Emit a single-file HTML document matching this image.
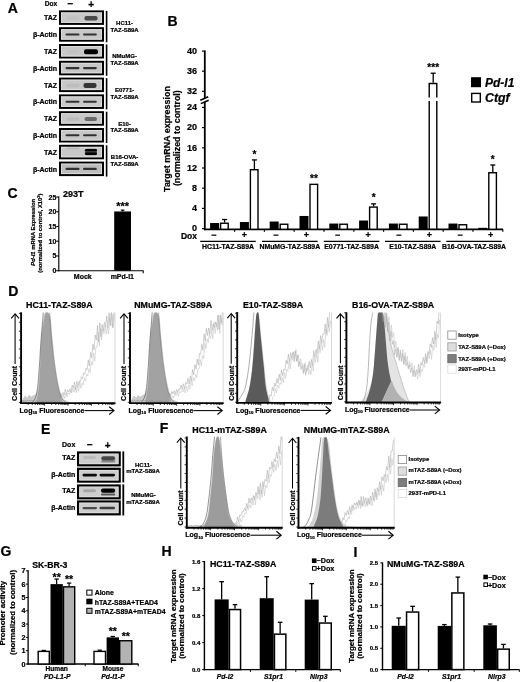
<!DOCTYPE html>
<html><head><meta charset="utf-8"><style>
html,body{margin:0;padding:0;background:#fff;}
svg{display:block;filter:blur(0.3px);}
text{font-family:"Liberation Sans", Arial, sans-serif;stroke-width:0.22px;stroke:#000;}
</style></head><body>
<svg width="520" height="682" viewBox="0 0 520 682">
<defs>
<filter id="blur1" x="-20%" y="-50%" width="140%" height="200%"><feGaussianBlur stdDeviation="0.7"/></filter>
</defs>
<rect width="520" height="682" fill="#fff"/>
<text x="7.80" y="12.90" font-size="14" font-weight="bold" text-anchor="start" fill="#000" stroke="#000" stroke-width="0.22">A</text>
<text x="57.30" y="6.10" font-size="6.6" font-weight="bold" text-anchor="end" fill="#000" stroke="#000" stroke-width="0.3">Dox</text>
<text x="70.30" y="7.30" font-size="10" font-weight="bold" text-anchor="middle" fill="#000" stroke="#000" stroke-width="0.22">−</text>
<text x="91.20" y="7.50" font-size="10" font-weight="bold" text-anchor="middle" fill="#000" stroke="#000" stroke-width="0.22">+</text>
<rect x="60.00" y="11.40" width="43.00" height="12.50" fill="#c8c8c8" stroke="#000" stroke-width="2"/>
<rect x="61.50" y="12.90" width="40.00" height="9.50" fill="none" stroke="#dedede" stroke-width="0.9"/>
<rect x="66.50" y="16.45" width="13.00" height="3.50" rx="1.75" fill="#333" opacity="0.04" filter="url(#blur1)"/>
<rect x="84.40" y="15.90" width="13.20" height="4.60" rx="2.00" fill="#2a2a2a" opacity="0.80" filter="url(#blur1)"/>
<rect x="60.00" y="28.20" width="43.00" height="12.50" fill="#c8c8c8" stroke="#000" stroke-width="2"/>
<rect x="61.50" y="29.70" width="40.00" height="9.50" fill="none" stroke="#dedede" stroke-width="0.9"/>
<rect x="65.50" y="33.45" width="14.00" height="2.10" rx="1.05" fill="#222" opacity="0.90" filter="url(#blur1)"/>
<rect x="83.00" y="33.45" width="13.80" height="2.10" rx="1.05" fill="#222" opacity="0.90" filter="url(#blur1)"/>
<text x="57.00" y="20.40" font-size="7" font-weight="bold" text-anchor="end" fill="#000" stroke="#000" stroke-width="0.3">TAZ</text>
<text x="57.00" y="37.20" font-size="7" font-weight="bold" text-anchor="end" fill="#000" stroke="#000" stroke-width="0.3">β-Actin</text>
<rect x="105.80" y="10.90" width="1.60" height="31.30" fill="#000"/>
<text x="124.60" y="24.70" font-size="6.0" font-weight="bold" text-anchor="middle" fill="#000" stroke="#000" stroke-width="0.3">HC11-</text>
<text x="124.60" y="31.60" font-size="6.0" font-weight="bold" text-anchor="middle" fill="#000" stroke="#000" stroke-width="0.3">TAZ-S89A</text>
<rect x="60.00" y="45.00" width="43.00" height="12.50" fill="#c8c8c8" stroke="#000" stroke-width="2"/>
<rect x="61.50" y="46.50" width="40.00" height="9.50" fill="none" stroke="#dedede" stroke-width="0.9"/>
<rect x="66.50" y="50.05" width="13.00" height="3.50" rx="1.75" fill="#333" opacity="0.03" filter="url(#blur1)"/>
<rect x="84.00" y="49.30" width="14.00" height="5.00" rx="2.00" fill="#000" opacity="1.00" filter="url(#blur1)"/>
<rect x="60.00" y="61.80" width="43.00" height="12.50" fill="#c8c8c8" stroke="#000" stroke-width="2"/>
<rect x="61.50" y="63.30" width="40.00" height="9.50" fill="none" stroke="#dedede" stroke-width="0.9"/>
<rect x="65.50" y="67.05" width="14.00" height="2.10" rx="1.05" fill="#222" opacity="0.90" filter="url(#blur1)"/>
<rect x="83.00" y="67.05" width="13.80" height="2.10" rx="1.05" fill="#222" opacity="0.90" filter="url(#blur1)"/>
<text x="57.00" y="54.00" font-size="7" font-weight="bold" text-anchor="end" fill="#000" stroke="#000" stroke-width="0.3">TAZ</text>
<text x="57.00" y="70.80" font-size="7" font-weight="bold" text-anchor="end" fill="#000" stroke="#000" stroke-width="0.3">β-Actin</text>
<rect x="105.80" y="44.50" width="1.60" height="31.30" fill="#000"/>
<text x="124.60" y="58.30" font-size="6.0" font-weight="bold" text-anchor="middle" fill="#000" stroke="#000" stroke-width="0.3">NMuMG-</text>
<text x="124.60" y="65.20" font-size="6.0" font-weight="bold" text-anchor="middle" fill="#000" stroke="#000" stroke-width="0.3">TAZ-S89A</text>
<rect x="60.00" y="78.60" width="43.00" height="12.50" fill="#c8c8c8" stroke="#000" stroke-width="2"/>
<rect x="61.50" y="80.10" width="40.00" height="9.50" fill="none" stroke="#dedede" stroke-width="0.9"/>
<rect x="66.50" y="83.65" width="13.00" height="3.50" rx="1.75" fill="#333" opacity="0.07" filter="url(#blur1)"/>
<rect x="83.50" y="83.10" width="13.00" height="4.80" rx="2.00" fill="#1a1a1a" opacity="0.85" filter="url(#blur1)"/>
<rect x="60.00" y="95.40" width="43.00" height="12.50" fill="#c8c8c8" stroke="#000" stroke-width="2"/>
<rect x="61.50" y="96.90" width="40.00" height="9.50" fill="none" stroke="#dedede" stroke-width="0.9"/>
<rect x="65.50" y="100.65" width="14.00" height="2.10" rx="1.05" fill="#222" opacity="0.90" filter="url(#blur1)"/>
<rect x="83.00" y="100.65" width="13.80" height="2.10" rx="1.05" fill="#222" opacity="0.90" filter="url(#blur1)"/>
<text x="57.00" y="87.60" font-size="7" font-weight="bold" text-anchor="end" fill="#000" stroke="#000" stroke-width="0.3">TAZ</text>
<text x="57.00" y="104.40" font-size="7" font-weight="bold" text-anchor="end" fill="#000" stroke="#000" stroke-width="0.3">β-Actin</text>
<rect x="105.80" y="78.10" width="1.60" height="31.30" fill="#000"/>
<text x="124.60" y="91.90" font-size="6.0" font-weight="bold" text-anchor="middle" fill="#000" stroke="#000" stroke-width="0.3">E0771-</text>
<text x="124.60" y="98.80" font-size="6.0" font-weight="bold" text-anchor="middle" fill="#000" stroke="#000" stroke-width="0.3">TAZ-S89A</text>
<rect x="60.00" y="112.20" width="43.00" height="12.50" fill="#c8c8c8" stroke="#000" stroke-width="2"/>
<rect x="61.50" y="113.70" width="40.00" height="9.50" fill="none" stroke="#dedede" stroke-width="0.9"/>
<rect x="66.50" y="117.25" width="13.00" height="3.50" rx="1.75" fill="#333" opacity="0.07" filter="url(#blur1)"/>
<rect x="84.50" y="117.00" width="12.50" height="4.00" rx="2.00" fill="#333" opacity="0.62" filter="url(#blur1)"/>
<rect x="60.00" y="129.00" width="43.00" height="12.50" fill="#c8c8c8" stroke="#000" stroke-width="2"/>
<rect x="61.50" y="130.50" width="40.00" height="9.50" fill="none" stroke="#dedede" stroke-width="0.9"/>
<rect x="65.50" y="134.25" width="14.00" height="2.10" rx="1.05" fill="#222" opacity="0.90" filter="url(#blur1)"/>
<rect x="83.00" y="134.25" width="13.80" height="2.10" rx="1.05" fill="#222" opacity="0.90" filter="url(#blur1)"/>
<text x="57.00" y="121.20" font-size="7" font-weight="bold" text-anchor="end" fill="#000" stroke="#000" stroke-width="0.3">TAZ</text>
<text x="57.00" y="138.00" font-size="7" font-weight="bold" text-anchor="end" fill="#000" stroke="#000" stroke-width="0.3">β-Actin</text>
<rect x="105.80" y="111.70" width="1.60" height="31.30" fill="#000"/>
<text x="124.60" y="125.50" font-size="6.0" font-weight="bold" text-anchor="middle" fill="#000" stroke="#000" stroke-width="0.3">E10-</text>
<text x="124.60" y="132.40" font-size="6.0" font-weight="bold" text-anchor="middle" fill="#000" stroke="#000" stroke-width="0.3">TAZ-S89A</text>
<rect x="60.00" y="145.80" width="43.00" height="12.50" fill="#c8c8c8" stroke="#000" stroke-width="2"/>
<rect x="61.50" y="147.30" width="40.00" height="9.50" fill="none" stroke="#dedede" stroke-width="0.9"/>
<rect x="66.50" y="146.30" width="13.00" height="3.00" rx="1.50" fill="#333" opacity="0.10" filter="url(#blur1)"/>
<rect x="84.90" y="148.80" width="12.10" height="6.50" rx="2.00" fill="#333" opacity="0.60" filter="url(#blur1)"/>
<rect x="84.90" y="148.90" width="12.10" height="2.60" rx="1.30" fill="#000" opacity="0.95" filter="url(#blur1)"/>
<rect x="84.90" y="152.30" width="12.10" height="2.80" rx="1.40" fill="#000" opacity="0.95" filter="url(#blur1)"/>
<rect x="60.00" y="162.60" width="43.00" height="12.50" fill="#bdbdbd" stroke="#000" stroke-width="2"/>
<rect x="61.50" y="164.10" width="40.00" height="9.50" fill="none" stroke="#dedede" stroke-width="0.9"/>
<rect x="65.50" y="167.85" width="14.00" height="2.10" rx="1.05" fill="#222" opacity="0.90" filter="url(#blur1)"/>
<rect x="83.00" y="167.85" width="13.80" height="2.10" rx="1.05" fill="#222" opacity="0.90" filter="url(#blur1)"/>
<text x="57.00" y="154.80" font-size="7" font-weight="bold" text-anchor="end" fill="#000" stroke="#000" stroke-width="0.3">TAZ</text>
<text x="57.00" y="171.60" font-size="7" font-weight="bold" text-anchor="end" fill="#000" stroke="#000" stroke-width="0.3">β-Actin</text>
<rect x="105.80" y="145.30" width="1.60" height="31.30" fill="#000"/>
<text x="124.60" y="159.10" font-size="6.0" font-weight="bold" text-anchor="middle" fill="#000" stroke="#000" stroke-width="0.3">B16-OVA-</text>
<text x="124.60" y="166.00" font-size="6.0" font-weight="bold" text-anchor="middle" fill="#000" stroke="#000" stroke-width="0.3">TAZ-S89A</text>
<text x="167.50" y="26.20" font-size="14" font-weight="bold" text-anchor="start" fill="#000" stroke="#000" stroke-width="0.22">B</text>
<line x1="204.80" y1="50.50" x2="204.80" y2="98.20" stroke="#000" stroke-width="1.8"/>
<line x1="204.80" y1="102.00" x2="204.80" y2="230.20" stroke="#000" stroke-width="1.8"/>
<line x1="200.30" y1="100.20" x2="208.20" y2="96.80" stroke="#000" stroke-width="1.5"/>
<line x1="200.80" y1="103.60" x2="208.70" y2="100.20" stroke="#000" stroke-width="1.5"/>
<line x1="202.00" y1="51.10" x2="204.80" y2="51.10" stroke="#000" stroke-width="1.2"/>
<text x="196.90" y="53.80" font-size="9" font-weight="bold" text-anchor="end" fill="#000" stroke="#000" stroke-width="0.22">40</text>
<line x1="202.00" y1="71.20" x2="204.80" y2="71.20" stroke="#000" stroke-width="1.2"/>
<text x="196.90" y="73.90" font-size="9" font-weight="bold" text-anchor="end" fill="#000" stroke="#000" stroke-width="0.22">36</text>
<line x1="202.00" y1="91.30" x2="204.80" y2="91.30" stroke="#000" stroke-width="1.2"/>
<text x="196.90" y="94.00" font-size="9" font-weight="bold" text-anchor="end" fill="#000" stroke="#000" stroke-width="0.22">32</text>
<line x1="202.00" y1="107.40" x2="204.80" y2="107.40" stroke="#000" stroke-width="1.2"/>
<text x="196.90" y="110.10" font-size="9" font-weight="bold" text-anchor="end" fill="#000" stroke="#000" stroke-width="0.22">24</text>
<line x1="202.00" y1="127.60" x2="204.80" y2="127.60" stroke="#000" stroke-width="1.2"/>
<text x="196.90" y="130.30" font-size="9" font-weight="bold" text-anchor="end" fill="#000" stroke="#000" stroke-width="0.22">20</text>
<line x1="202.00" y1="147.80" x2="204.80" y2="147.80" stroke="#000" stroke-width="1.2"/>
<text x="196.90" y="150.50" font-size="9" font-weight="bold" text-anchor="end" fill="#000" stroke="#000" stroke-width="0.22">16</text>
<line x1="202.00" y1="168.00" x2="204.80" y2="168.00" stroke="#000" stroke-width="1.2"/>
<text x="196.90" y="170.70" font-size="9" font-weight="bold" text-anchor="end" fill="#000" stroke="#000" stroke-width="0.22">12</text>
<line x1="202.00" y1="188.20" x2="204.80" y2="188.20" stroke="#000" stroke-width="1.2"/>
<text x="196.90" y="190.90" font-size="9" font-weight="bold" text-anchor="end" fill="#000" stroke="#000" stroke-width="0.22">8</text>
<line x1="202.00" y1="208.40" x2="204.80" y2="208.40" stroke="#000" stroke-width="1.2"/>
<text x="196.90" y="211.10" font-size="9" font-weight="bold" text-anchor="end" fill="#000" stroke="#000" stroke-width="0.22">4</text>
<line x1="202.00" y1="228.60" x2="204.80" y2="228.60" stroke="#000" stroke-width="1.2"/>
<text x="196.90" y="231.30" font-size="9" font-weight="bold" text-anchor="end" fill="#000" stroke="#000" stroke-width="0.22">0</text>
<line x1="203.90" y1="229.30" x2="503.00" y2="229.30" stroke="#000" stroke-width="1.8"/>
<line x1="234.60" y1="229.30" x2="234.60" y2="231.80" stroke="#000" stroke-width="1.2"/>
<line x1="264.40" y1="229.30" x2="264.40" y2="231.80" stroke="#000" stroke-width="1.2"/>
<line x1="294.20" y1="229.30" x2="294.20" y2="231.80" stroke="#000" stroke-width="1.2"/>
<line x1="324.00" y1="229.30" x2="324.00" y2="231.80" stroke="#000" stroke-width="1.2"/>
<line x1="353.80" y1="229.30" x2="353.80" y2="231.80" stroke="#000" stroke-width="1.2"/>
<line x1="383.60" y1="229.30" x2="383.60" y2="231.80" stroke="#000" stroke-width="1.2"/>
<line x1="413.40" y1="229.30" x2="413.40" y2="231.80" stroke="#000" stroke-width="1.2"/>
<line x1="443.20" y1="229.30" x2="443.20" y2="231.80" stroke="#000" stroke-width="1.2"/>
<line x1="473.00" y1="229.30" x2="473.00" y2="231.80" stroke="#000" stroke-width="1.2"/>
<line x1="502.80" y1="229.30" x2="502.80" y2="231.80" stroke="#000" stroke-width="1.2"/>
<text x="197.00" y="238.80" font-size="8.5" font-weight="bold" text-anchor="end" fill="#000" stroke="#000" stroke-width="0.22">Dox</text>
<text x="169.80" y="139.00" font-size="8.95" font-weight="bold" text-anchor="middle" fill="#000" stroke="#000" stroke-width="0.22" transform="rotate(-90 169.80 139.00)">Target mRNA expression</text>
<text x="180.40" y="138.20" font-size="8.85" font-weight="bold" text-anchor="middle" fill="#000" stroke="#000" stroke-width="0.22" transform="rotate(-90 180.40 138.20)">(normalized to control)</text>
<rect x="210.10" y="223.04" width="9.00" height="6.26" fill="#000"/>
<line x1="224.60" y1="219.51" x2="224.60" y2="222.54" stroke="#000" stroke-width="1.3"/>
<line x1="222.10" y1="219.51" x2="227.10" y2="219.51" stroke="#000" stroke-width="1.3"/>
<rect x="220.60" y="223.24" width="7.60" height="6.06" fill="#fff" stroke="#000" stroke-width="1.4"/>
<rect x="239.90" y="222.03" width="9.00" height="7.27" fill="#000"/>
<line x1="254.40" y1="159.92" x2="254.40" y2="169.01" stroke="#000" stroke-width="1.3"/>
<line x1="251.90" y1="159.92" x2="256.90" y2="159.92" stroke="#000" stroke-width="1.3"/>
<rect x="250.40" y="169.71" width="7.60" height="59.59" fill="#fff" stroke="#000" stroke-width="1.4"/>
<text x="254.40" y="157.52" font-size="10" font-weight="bold" text-anchor="middle" fill="#000" stroke="#000" stroke-width="0.22">*</text>
<rect x="269.70" y="221.53" width="9.00" height="7.77" fill="#000"/>
<rect x="280.20" y="224.25" width="7.60" height="5.05" fill="#fff" stroke="#000" stroke-width="1.4"/>
<rect x="299.50" y="215.97" width="9.00" height="13.33" fill="#000"/>
<rect x="310.00" y="184.35" width="7.60" height="44.95" fill="#fff" stroke="#000" stroke-width="1.4"/>
<text x="314.00" y="181.85" font-size="10" font-weight="bold" text-anchor="middle" fill="#000" stroke="#000" stroke-width="0.22">**</text>
<rect x="329.30" y="223.55" width="9.00" height="5.75" fill="#000"/>
<rect x="339.80" y="224.25" width="7.60" height="5.05" fill="#fff" stroke="#000" stroke-width="1.4"/>
<rect x="359.10" y="220.52" width="9.00" height="8.78" fill="#000"/>
<line x1="373.60" y1="203.85" x2="373.60" y2="206.38" stroke="#000" stroke-width="1.3"/>
<line x1="371.10" y1="203.85" x2="376.10" y2="203.85" stroke="#000" stroke-width="1.3"/>
<rect x="369.60" y="207.08" width="7.60" height="22.22" fill="#fff" stroke="#000" stroke-width="1.4"/>
<text x="373.60" y="201.45" font-size="10" font-weight="bold" text-anchor="middle" fill="#000" stroke="#000" stroke-width="0.22">*</text>
<rect x="388.90" y="223.55" width="9.00" height="5.75" fill="#000"/>
<rect x="399.40" y="224.25" width="7.60" height="5.05" fill="#fff" stroke="#000" stroke-width="1.4"/>
<rect x="418.70" y="216.48" width="9.00" height="12.82" fill="#000"/>
<line x1="433.20" y1="73.21" x2="433.20" y2="82.76" stroke="#000" stroke-width="1.3"/>
<line x1="430.70" y1="73.21" x2="435.70" y2="73.21" stroke="#000" stroke-width="1.3"/>
<path d="M429.20 97.6 V83.46 H436.80 V97.6 M429.20 101.0 V229.30 M436.80 101.0 V229.30" stroke="#000" stroke-width="1.4" fill="none"/>
<text x="433.20" y="70.81" font-size="10" font-weight="bold" text-anchor="middle" fill="#000" stroke="#000" stroke-width="0.22">***</text>
<rect x="448.50" y="223.55" width="9.00" height="5.75" fill="#000"/>
<rect x="459.00" y="224.75" width="7.60" height="4.55" fill="#fff" stroke="#000" stroke-width="1.4"/>
<rect x="478.30" y="227.84" width="9.00" height="1.46" fill="#000"/>
<line x1="492.80" y1="164.97" x2="492.80" y2="172.04" stroke="#000" stroke-width="1.3"/>
<line x1="490.30" y1="164.97" x2="495.30" y2="164.97" stroke="#000" stroke-width="1.3"/>
<rect x="488.80" y="172.74" width="7.60" height="56.56" fill="#fff" stroke="#000" stroke-width="1.4"/>
<text x="492.80" y="162.57" font-size="10" font-weight="bold" text-anchor="middle" fill="#000" stroke="#000" stroke-width="0.22">*</text>
<line x1="200.20" y1="241.40" x2="255.80" y2="241.40" stroke="#000" stroke-width="1.2"/>
<text x="228.00" y="249.10" font-size="6.9" font-weight="bold" text-anchor="middle" fill="#000" stroke="#000" stroke-width="0.3">HC11-TAZ-S89A</text>
<text x="214.00" y="238.40" font-size="9" font-weight="bold" text-anchor="middle" fill="#000" stroke="#000" stroke-width="0.22">−</text>
<text x="244.50" y="238.40" font-size="9" font-weight="bold" text-anchor="middle" fill="#000" stroke="#000" stroke-width="0.22">+</text>
<line x1="262.00" y1="241.40" x2="317.60" y2="241.40" stroke="#000" stroke-width="1.2"/>
<text x="289.80" y="249.10" font-size="6.9" font-weight="bold" text-anchor="middle" fill="#000" stroke="#000" stroke-width="0.3">NMuMG-TAZ-S89A</text>
<text x="275.80" y="238.40" font-size="9" font-weight="bold" text-anchor="middle" fill="#000" stroke="#000" stroke-width="0.22">−</text>
<text x="306.30" y="238.40" font-size="9" font-weight="bold" text-anchor="middle" fill="#000" stroke="#000" stroke-width="0.22">+</text>
<line x1="323.75" y1="241.40" x2="379.35" y2="241.40" stroke="#000" stroke-width="1.2"/>
<text x="351.55" y="249.10" font-size="6.9" font-weight="bold" text-anchor="middle" fill="#000" stroke="#000" stroke-width="0.3">E0771-TAZ-S89A</text>
<text x="337.55" y="238.40" font-size="9" font-weight="bold" text-anchor="middle" fill="#000" stroke="#000" stroke-width="0.22">−</text>
<text x="368.05" y="238.40" font-size="9" font-weight="bold" text-anchor="middle" fill="#000" stroke="#000" stroke-width="0.22">+</text>
<line x1="385.00" y1="241.40" x2="440.60" y2="241.40" stroke="#000" stroke-width="1.2"/>
<text x="412.80" y="249.10" font-size="6.9" font-weight="bold" text-anchor="middle" fill="#000" stroke="#000" stroke-width="0.3">E10-TAZ-S89A</text>
<text x="398.80" y="238.40" font-size="9" font-weight="bold" text-anchor="middle" fill="#000" stroke="#000" stroke-width="0.22">−</text>
<text x="429.30" y="238.40" font-size="9" font-weight="bold" text-anchor="middle" fill="#000" stroke="#000" stroke-width="0.22">+</text>
<line x1="446.25" y1="241.40" x2="501.85" y2="241.40" stroke="#000" stroke-width="1.2"/>
<text x="474.05" y="249.10" font-size="6.9" font-weight="bold" text-anchor="middle" fill="#000" stroke="#000" stroke-width="0.3">B16-OVA-TAZ-S89A</text>
<text x="460.05" y="238.40" font-size="9" font-weight="bold" text-anchor="middle" fill="#000" stroke="#000" stroke-width="0.22">−</text>
<text x="490.55" y="238.40" font-size="9" font-weight="bold" text-anchor="middle" fill="#000" stroke="#000" stroke-width="0.22">+</text>
<rect x="471.00" y="77.20" width="10.00" height="10.00" fill="#000"/>
<rect x="471.70" y="93.40" width="8.60" height="8.60" fill="#fff" stroke="#000" stroke-width="1.4"/>
<text x="485.00" y="86.80" font-size="12.0" font-weight="bold" text-anchor="start" font-style="italic" fill="#000" stroke="#000" stroke-width="0.22">Pd-l1</text>
<text x="485.00" y="101.60" font-size="12.3" font-weight="bold" text-anchor="start" font-style="italic" fill="#000" stroke="#000" stroke-width="0.22">Ctgf</text>
<text x="7.50" y="198.20" font-size="14" font-weight="bold" text-anchor="start" fill="#000" stroke="#000" stroke-width="0.22">C</text>
<line x1="58.80" y1="196.50" x2="58.80" y2="271.30" stroke="#000" stroke-width="1.15"/>
<line x1="56.30" y1="270.70" x2="58.80" y2="270.70" stroke="#000" stroke-width="1.1"/>
<text x="56.30" y="273.20" font-size="7" font-weight="bold" text-anchor="end" fill="#000" stroke="#000" stroke-width="0.3">0</text>
<line x1="56.30" y1="255.96" x2="58.80" y2="255.96" stroke="#000" stroke-width="1.1"/>
<text x="56.30" y="258.46" font-size="7" font-weight="bold" text-anchor="end" fill="#000" stroke="#000" stroke-width="0.3">5</text>
<line x1="56.30" y1="241.22" x2="58.80" y2="241.22" stroke="#000" stroke-width="1.1"/>
<text x="56.30" y="243.72" font-size="7" font-weight="bold" text-anchor="end" fill="#000" stroke="#000" stroke-width="0.3">10</text>
<line x1="56.30" y1="226.48" x2="58.80" y2="226.48" stroke="#000" stroke-width="1.1"/>
<text x="56.30" y="228.98" font-size="7" font-weight="bold" text-anchor="end" fill="#000" stroke="#000" stroke-width="0.3">15</text>
<line x1="56.30" y1="211.74" x2="58.80" y2="211.74" stroke="#000" stroke-width="1.1"/>
<text x="56.30" y="214.24" font-size="7" font-weight="bold" text-anchor="end" fill="#000" stroke="#000" stroke-width="0.3">20</text>
<line x1="56.30" y1="197.00" x2="58.80" y2="197.00" stroke="#000" stroke-width="1.1"/>
<text x="56.30" y="199.50" font-size="7" font-weight="bold" text-anchor="end" fill="#000" stroke="#000" stroke-width="0.3">25</text>
<line x1="58.20" y1="270.70" x2="143.50" y2="270.70" stroke="#000" stroke-width="1.15"/>
<line x1="143.20" y1="270.70" x2="143.20" y2="273.20" stroke="#000" stroke-width="1.1"/>
<rect x="114.20" y="211.45" width="16.80" height="59.25" fill="#000"/>
<line x1="122.60" y1="211.45" x2="122.60" y2="210.12" stroke="#000" stroke-width="1.2"/>
<line x1="120.80" y1="210.12" x2="124.40" y2="210.12" stroke="#000" stroke-width="1.2"/>
<text x="122.60" y="209.60" font-size="11" font-weight="bold" text-anchor="middle" fill="#000" stroke="#000" stroke-width="0.22">***</text>
<text x="63.00" y="197.30" font-size="9" font-weight="bold" text-anchor="start" fill="#000" stroke="#000" stroke-width="0.22">293T</text>
<text x="82.80" y="278.50" font-size="7" font-weight="bold" text-anchor="middle" fill="#000" stroke="#000" stroke-width="0.3">Mock</text>
<text x="122.30" y="278.50" font-size="7" font-weight="bold" text-anchor="middle" fill="#000" stroke="#000" stroke-width="0.3">mPd-l1</text>
<text x="34.8" y="232.3" font-size="5.85" font-weight="bold" text-anchor="middle" transform="rotate(-90 34.8 232.3)"><tspan font-style="italic">Pd-l1</tspan> mRNA Expression</text>
<text x="41.8" y="233.1" font-size="5.85" font-weight="bold" text-anchor="middle" transform="rotate(-90 41.8 233.1)">(normalized to control, X10<tspan font-size="4" dy="-2">3</tspan><tspan dy="2">)</tspan></text>
<text x="8.30" y="295.60" font-size="14" font-weight="bold" text-anchor="start" fill="#000" stroke="#000" stroke-width="0.22">D</text>
<clipPath id="cp1"><rect x="21.10" y="312.60" width="93.90" height="89.80"/></clipPath>
<g clip-path="url(#cp1)">
<path d="M21.60 401.90 C21.85 401.32 22.52 399.40 23.10 398.40 C23.68 397.40 24.43 396.07 25.10 395.90 C25.77 395.73 26.43 397.57 27.10 397.40 C27.77 397.23 28.43 395.07 29.10 394.90 C29.77 394.73 30.43 396.32 31.10 396.40 C31.77 396.48 32.43 395.73 33.10 395.40 C33.77 395.07 34.52 394.90 35.10 394.40 C35.68 393.90 36.10 393.70 36.60 392.40 C37.10 391.10 37.58 391.05 38.10 386.60 C38.62 382.15 39.20 373.82 39.70 365.70 C40.20 357.58 40.47 345.78 41.10 337.90 C41.73 330.02 42.85 322.57 43.50 318.40 C44.15 314.23 44.50 314.23 45.00 312.90 C45.50 311.57 45.92 310.40 46.50 310.40 C47.08 310.40 47.80 311.57 48.50 312.90 C49.20 314.23 50.03 314.23 50.70 318.40 C51.37 322.57 51.70 330.02 52.50 337.90 C53.30 345.78 54.40 357.58 55.50 365.70 C56.60 373.82 57.92 381.32 59.10 386.60 C60.28 391.88 61.60 395.18 62.60 397.40 C63.60 399.62 64.02 399.20 65.10 399.90 C66.18 400.60 68.43 401.32 69.10 401.60 L69.10 404.40 L21.60 404.40 Z" fill="#cacaca" opacity="1"/>
<path d="M36.10 402.40 C36.20 402.08 36.23 403.13 36.70 400.50 C37.17 397.87 38.30 392.40 38.90 386.60 C39.50 380.80 39.83 373.82 40.30 365.70 C40.77 357.58 41.03 345.78 41.70 337.90 C42.37 330.02 43.63 322.57 44.30 318.40 C44.97 314.23 45.27 314.23 45.70 312.90 C46.13 311.57 46.45 310.40 46.90 310.40 C47.35 310.40 47.90 311.57 48.40 312.90 C48.90 314.23 49.38 314.23 49.90 318.40 C50.42 322.57 50.78 330.02 51.50 337.90 C52.22 345.78 53.17 357.58 54.20 365.70 C55.23 373.82 56.42 380.80 57.70 386.60 C58.98 392.40 61.00 397.87 61.90 400.50 C62.80 403.13 62.90 402.08 63.10 402.40 L63.10 404.40 L36.10 404.40 Z" fill="#a2a2a2" opacity="1"/>
<path d="M56.10 400.27 L57.25 401.96 L58.40 394.82 L59.55 398.13 L60.70 393.22 L61.85 396.88 L63.00 392.46 L64.15 395.02 L65.30 389.31 L66.45 394.70 L67.60 389.92 L68.75 391.94 L69.90 388.76 L71.05 392.50 L72.20 384.97 L73.35 388.07 L74.50 382.04 L75.65 389.90 L76.80 381.25 L77.95 386.48 L79.10 380.78 L80.25 381.77 L81.40 376.80 L82.55 378.45 L83.70 373.05 L84.85 374.12 L86.00 368.32 L87.15 369.68 L88.30 359.83 L89.45 366.02 L90.60 352.44 L91.75 357.79 L92.90 344.13 L94.05 349.88 L95.20 334.86 L96.35 340.04 L97.50 325.65 L98.65 341.86 L99.80 322.71 L100.95 336.77 L102.10 324.50 L103.25 330.69 L104.40 322.33 L105.55 327.12 L106.70 315.90 L107.85 327.69 L109.00 312.77 L110.15 325.42 L111.30 309.37 L112.45 327.27 L113.60 314.53" fill="none" stroke="#a0a0a0" stroke-width="0.5" stroke-linejoin="round"/>
<path d="M59.10 402.03 L60.25 402.40 L61.40 397.85 L62.55 399.51 L63.70 395.07 L64.85 398.53 L66.00 393.75 L67.15 396.86 L68.30 392.89 L69.45 394.51 L70.60 390.63 L71.75 392.86 L72.90 388.03 L74.05 392.19 L75.20 386.17 L76.35 392.89 L77.50 386.30 L78.65 391.09 L79.80 382.18 L80.95 388.16 L82.10 382.82 L83.25 385.10 L84.40 377.90 L85.55 381.00 L86.70 374.39 L87.85 375.96 L89.00 368.66 L90.15 372.94 L91.30 361.81 L92.45 365.16 L93.60 353.12 L94.75 361.36 L95.90 346.94 L97.05 347.11 L98.20 332.38 L99.35 345.90 L100.50 328.55 L101.65 339.81 L102.80 328.94 L103.95 333.89 L105.10 325.98 L106.25 334.24 L107.40 325.63 L108.55 334.12 L109.70 317.50 L110.85 325.92 L112.00 314.04 L113.15 328.01 L114.30 310.92 L115.45 325.63 L116.60 308.54" fill="none" stroke="#bcbcbc" stroke-width="0.5" stroke-linejoin="round"/>
<path d="M32.60 402.10 C33.10 401.32 34.77 399.85 35.60 397.40 C36.43 394.95 36.98 392.40 37.60 387.40 C38.22 382.40 38.75 374.90 39.30 367.40 C39.85 359.90 40.33 350.23 40.90 342.40 C41.47 334.57 42.23 326.40 42.70 320.40 C43.17 314.40 43.53 308.73 43.70 306.40" fill="none" stroke="#4a4a4a" stroke-width="0.6"/>
<path d="M49.40 306.40 C49.55 309.07 49.85 316.07 50.30 322.40 C50.75 328.73 51.33 336.73 52.10 344.40 C52.87 352.07 53.85 361.07 54.90 368.40 C55.95 375.73 57.28 383.40 58.40 388.40 C59.52 393.40 60.48 396.20 61.60 398.40 C62.72 400.60 64.52 401.07 65.10 401.60" fill="none" stroke="#666" stroke-width="0.5"/>
<path d="M22.30 400.23 L23.13 401.70 L23.78 400.20 L25.00 401.62 L25.74 400.48 L26.56 401.65 L27.30 400.31 L28.63 401.19 L29.15 400.25 L30.40 401.05 L31.06 399.97 L32.16 401.19 L32.71 400.12 L33.59 401.01 L34.58 400.14 L35.54 401.55 L36.39 400.66 L37.23 401.67 L38.55 400.70 L39.15 401.28 L40.26 400.75 L40.92 401.85 L42.06 400.72 L42.74 401.88 L43.86 400.76 L44.57 402.12 L45.83 400.61 L46.80 401.91 L47.39 401.06 L48.43 401.90 L49.25 400.47 L50.36 401.64 L51.29 401.22 L52.08 401.79 L53.03 400.50 L53.84 402.07 L54.51 400.67 L55.45 401.82 L56.47 401.06 L57.59 401.52 L58.25 401.01 L59.36 401.63 L59.96 401.02 L61.10 401.20" fill="none" stroke="#888" stroke-width="0.5" stroke-linejoin="round"/>
</g>
<line x1="115.00" y1="312.60" x2="115.00" y2="402.40" stroke="#d0d0d0" stroke-width="0.8"/>
<line x1="21.10" y1="312.30" x2="21.10" y2="404.00" stroke="#000" stroke-width="1.9"/>
<line x1="20.10" y1="403.10" x2="115.50" y2="403.10" stroke="#000" stroke-width="1.9"/>
<line x1="18.90" y1="402.40" x2="21.10" y2="402.40" stroke="#000" stroke-width="0.8"/>
<line x1="18.90" y1="393.50" x2="21.10" y2="393.50" stroke="#000" stroke-width="0.8"/>
<line x1="18.90" y1="384.60" x2="21.10" y2="384.60" stroke="#000" stroke-width="0.8"/>
<line x1="18.90" y1="375.70" x2="21.10" y2="375.70" stroke="#000" stroke-width="0.8"/>
<line x1="18.90" y1="366.80" x2="21.10" y2="366.80" stroke="#000" stroke-width="0.8"/>
<line x1="18.90" y1="357.90" x2="21.10" y2="357.90" stroke="#000" stroke-width="0.8"/>
<line x1="18.90" y1="349.00" x2="21.10" y2="349.00" stroke="#000" stroke-width="0.8"/>
<line x1="18.90" y1="340.10" x2="21.10" y2="340.10" stroke="#000" stroke-width="0.8"/>
<line x1="18.90" y1="331.20" x2="21.10" y2="331.20" stroke="#000" stroke-width="0.8"/>
<line x1="18.90" y1="322.30" x2="21.10" y2="322.30" stroke="#000" stroke-width="0.8"/>
<line x1="18.90" y1="313.40" x2="21.10" y2="313.40" stroke="#000" stroke-width="0.8"/>
<line x1="28.17" y1="403.10" x2="28.17" y2="405.00" stroke="#000" stroke-width="0.8"/>
<line x1="32.30" y1="403.10" x2="32.30" y2="405.00" stroke="#000" stroke-width="0.8"/>
<line x1="35.23" y1="403.10" x2="35.23" y2="405.00" stroke="#000" stroke-width="0.8"/>
<line x1="37.51" y1="403.10" x2="37.51" y2="405.00" stroke="#000" stroke-width="0.8"/>
<line x1="39.37" y1="403.10" x2="39.37" y2="405.00" stroke="#000" stroke-width="0.8"/>
<line x1="40.94" y1="403.10" x2="40.94" y2="405.00" stroke="#000" stroke-width="0.8"/>
<line x1="42.30" y1="403.10" x2="42.30" y2="405.00" stroke="#000" stroke-width="0.8"/>
<line x1="43.50" y1="403.10" x2="43.50" y2="405.00" stroke="#000" stroke-width="0.8"/>
<line x1="44.58" y1="403.10" x2="44.58" y2="405.70" stroke="#000" stroke-width="0.8"/>
<line x1="51.64" y1="403.10" x2="51.64" y2="405.00" stroke="#000" stroke-width="0.8"/>
<line x1="55.78" y1="403.10" x2="55.78" y2="405.00" stroke="#000" stroke-width="0.8"/>
<line x1="58.71" y1="403.10" x2="58.71" y2="405.00" stroke="#000" stroke-width="0.8"/>
<line x1="60.98" y1="403.10" x2="60.98" y2="405.00" stroke="#000" stroke-width="0.8"/>
<line x1="62.84" y1="403.10" x2="62.84" y2="405.00" stroke="#000" stroke-width="0.8"/>
<line x1="64.41" y1="403.10" x2="64.41" y2="405.00" stroke="#000" stroke-width="0.8"/>
<line x1="65.78" y1="403.10" x2="65.78" y2="405.00" stroke="#000" stroke-width="0.8"/>
<line x1="66.98" y1="403.10" x2="66.98" y2="405.00" stroke="#000" stroke-width="0.8"/>
<line x1="68.05" y1="403.10" x2="68.05" y2="405.70" stroke="#000" stroke-width="0.8"/>
<line x1="75.12" y1="403.10" x2="75.12" y2="405.00" stroke="#000" stroke-width="0.8"/>
<line x1="79.25" y1="403.10" x2="79.25" y2="405.00" stroke="#000" stroke-width="0.8"/>
<line x1="82.18" y1="403.10" x2="82.18" y2="405.00" stroke="#000" stroke-width="0.8"/>
<line x1="84.46" y1="403.10" x2="84.46" y2="405.00" stroke="#000" stroke-width="0.8"/>
<line x1="86.32" y1="403.10" x2="86.32" y2="405.00" stroke="#000" stroke-width="0.8"/>
<line x1="87.89" y1="403.10" x2="87.89" y2="405.00" stroke="#000" stroke-width="0.8"/>
<line x1="89.25" y1="403.10" x2="89.25" y2="405.00" stroke="#000" stroke-width="0.8"/>
<line x1="90.45" y1="403.10" x2="90.45" y2="405.00" stroke="#000" stroke-width="0.8"/>
<line x1="91.53" y1="403.10" x2="91.53" y2="405.70" stroke="#000" stroke-width="0.8"/>
<line x1="98.59" y1="403.10" x2="98.59" y2="405.00" stroke="#000" stroke-width="0.8"/>
<line x1="102.73" y1="403.10" x2="102.73" y2="405.00" stroke="#000" stroke-width="0.8"/>
<line x1="105.66" y1="403.10" x2="105.66" y2="405.00" stroke="#000" stroke-width="0.8"/>
<line x1="107.93" y1="403.10" x2="107.93" y2="405.00" stroke="#000" stroke-width="0.8"/>
<line x1="109.79" y1="403.10" x2="109.79" y2="405.00" stroke="#000" stroke-width="0.8"/>
<line x1="111.36" y1="403.10" x2="111.36" y2="405.00" stroke="#000" stroke-width="0.8"/>
<line x1="112.73" y1="403.10" x2="112.73" y2="405.00" stroke="#000" stroke-width="0.8"/>
<line x1="113.93" y1="403.10" x2="113.93" y2="405.00" stroke="#000" stroke-width="0.8"/>
<text x="26.00" y="308.30" font-size="8.85" font-weight="bold" text-anchor="start" fill="#000" stroke="#000" stroke-width="0.22">HC11-TAZ-S89A</text>
<text x="17.50" y="400.90" font-size="7" font-weight="bold" text-anchor="start" fill="#000" stroke="#000" stroke-width="0.3" transform="rotate(-90 17.50 400.90)">Cell Count</text>
<line x1="15.10" y1="363.90" x2="15.10" y2="314.20" stroke="#000" stroke-width="1.05"/>
<path d="M11.20 318.40 L15.10 313.80 L19.00 318.40" fill="none" stroke="#000" stroke-width="1.1"/>
<text x="19.60" y="412.80" font-size="7" font-weight="bold">Log<tspan font-size="4.4" dy="1.2">10</tspan><tspan dy="-1.2"> Fluorescence</tspan></text>
<line x1="84.60" y1="410.60" x2="113.80" y2="410.60" stroke="#000" stroke-width="1.05"/>
<path d="M109.20 406.70 L114.00 410.60 L109.20 414.50" fill="none" stroke="#000" stroke-width="1.1"/>
<clipPath id="cp2"><rect x="130.00" y="312.60" width="93.20" height="89.80"/></clipPath>
<g clip-path="url(#cp2)">
<path d="M130.50 401.90 C130.75 401.32 131.42 399.40 132.00 398.40 C132.58 397.40 133.33 396.07 134.00 395.90 C134.67 395.73 135.33 397.57 136.00 397.40 C136.67 397.23 137.33 395.07 138.00 394.90 C138.67 394.73 139.33 396.32 140.00 396.40 C140.67 396.48 141.33 395.73 142.00 395.40 C142.67 395.07 143.42 394.90 144.00 394.40 C144.58 393.90 145.00 393.70 145.50 392.40 C146.00 391.10 146.48 391.05 147.00 386.60 C147.52 382.15 148.10 373.82 148.60 365.70 C149.10 357.58 149.37 345.78 150.00 337.90 C150.63 330.02 151.75 322.57 152.40 318.40 C153.05 314.23 153.40 314.23 153.90 312.90 C154.40 311.57 154.82 310.40 155.40 310.40 C155.98 310.40 156.70 311.57 157.40 312.90 C158.10 314.23 158.93 314.23 159.60 318.40 C160.27 322.57 160.60 330.02 161.40 337.90 C162.20 345.78 163.30 357.58 164.40 365.70 C165.50 373.82 166.82 381.32 168.00 386.60 C169.18 391.88 170.50 395.18 171.50 397.40 C172.50 399.62 172.92 399.20 174.00 399.90 C175.08 400.60 177.33 401.32 178.00 401.60 L178.00 404.40 L130.50 404.40 Z" fill="#cacaca" opacity="1"/>
<path d="M145.00 402.40 C145.10 402.08 145.13 403.13 145.60 400.50 C146.07 397.87 147.20 392.40 147.80 386.60 C148.40 380.80 148.73 373.82 149.20 365.70 C149.67 357.58 149.93 345.78 150.60 337.90 C151.27 330.02 152.53 322.57 153.20 318.40 C153.87 314.23 154.17 314.23 154.60 312.90 C155.03 311.57 155.35 310.40 155.80 310.40 C156.25 310.40 156.80 311.57 157.30 312.90 C157.80 314.23 158.28 314.23 158.80 318.40 C159.32 322.57 159.68 330.02 160.40 337.90 C161.12 345.78 162.07 357.58 163.10 365.70 C164.13 373.82 165.32 380.80 166.60 386.60 C167.88 392.40 169.90 397.87 170.80 400.50 C171.70 403.13 171.80 402.08 172.00 402.40 L172.00 404.40 L145.00 404.40 Z" fill="#a2a2a2" opacity="1"/>
<path d="M165.00 399.05 L166.15 402.40 L167.30 394.92 L168.45 396.97 L169.60 392.96 L170.75 396.36 L171.90 391.35 L173.05 393.76 L174.20 390.77 L175.35 393.52 L176.50 389.49 L177.65 392.46 L178.80 388.99 L179.95 389.92 L181.10 384.91 L182.25 389.47 L183.40 383.81 L184.55 389.02 L185.70 382.40 L186.85 384.25 L188.00 378.23 L189.15 384.17 L190.30 376.25 L191.45 380.95 L192.60 369.43 L193.75 374.70 L194.90 364.64 L196.05 369.18 L197.20 359.11 L198.35 364.97 L199.50 353.67 L200.65 354.29 L201.80 344.30 L202.95 350.27 L204.10 333.88 L205.25 341.31 L206.40 328.38 L207.55 335.49 L208.70 327.97 L209.85 333.67 L211.00 320.43 L212.15 330.41 L213.30 323.78 L214.45 327.36 L215.60 322.07 L216.75 326.62 L217.90 315.14 L219.05 329.21 L220.20 314.90 L221.35 323.01 L222.50 311.92" fill="none" stroke="#a0a0a0" stroke-width="0.5" stroke-linejoin="round"/>
<path d="M168.00 402.40 L169.15 402.26 L170.30 397.34 L171.45 398.73 L172.60 395.90 L173.75 397.94 L174.90 393.25 L176.05 395.51 L177.20 391.65 L178.35 396.30 L179.50 391.32 L180.65 393.01 L181.80 390.50 L182.95 391.95 L184.10 388.65 L185.25 392.99 L186.40 386.08 L187.55 391.45 L188.70 384.80 L189.85 389.10 L191.00 380.88 L192.15 386.07 L193.30 377.74 L194.45 380.89 L195.60 374.35 L196.75 377.76 L197.90 369.30 L199.05 368.81 L200.20 359.45 L201.35 366.38 L202.50 355.46 L203.65 358.61 L204.80 342.77 L205.95 348.78 L207.10 338.74 L208.25 342.70 L209.40 333.45 L210.55 338.56 L211.70 330.59 L212.85 338.93 L214.00 321.78 L215.15 333.50 L216.30 322.97 L217.45 330.30 L218.60 315.53 L219.75 333.55 L220.90 315.64 L222.05 325.16 L223.20 317.70 L224.35 328.32 L225.50 314.21" fill="none" stroke="#bcbcbc" stroke-width="0.5" stroke-linejoin="round"/>
<path d="M141.50 402.10 C142.00 401.32 143.67 399.85 144.50 397.40 C145.33 394.95 145.88 392.40 146.50 387.40 C147.12 382.40 147.65 374.90 148.20 367.40 C148.75 359.90 149.23 350.23 149.80 342.40 C150.37 334.57 151.13 326.40 151.60 320.40 C152.07 314.40 152.43 308.73 152.60 306.40" fill="none" stroke="#4a4a4a" stroke-width="0.6"/>
<path d="M158.30 306.40 C158.45 309.07 158.75 316.07 159.20 322.40 C159.65 328.73 160.23 336.73 161.00 344.40 C161.77 352.07 162.75 361.07 163.80 368.40 C164.85 375.73 166.18 383.40 167.30 388.40 C168.42 393.40 169.38 396.20 170.50 398.40 C171.62 400.60 173.42 401.07 174.00 401.60" fill="none" stroke="#666" stroke-width="0.5"/>
<path d="M130.79 400.57 L131.80 401.70 L132.80 400.14 L133.50 401.36 L134.77 400.22 L135.72 401.56 L136.34 400.54 L137.43 400.96 L137.95 399.95 L139.27 401.41 L140.23 400.27 L140.70 400.92 L142.06 400.45 L142.56 400.96 L143.41 400.61 L144.47 401.17 L145.36 400.08 L146.20 401.75 L147.39 400.45 L148.22 401.83 L149.13 400.80 L149.91 401.56 L150.86 400.33 L151.78 401.47 L152.72 400.49 L153.61 401.96 L154.34 401.07 L155.54 401.52 L156.26 400.87 L157.12 401.55 L157.94 400.50 L159.19 402.25 L160.00 400.53 L161.09 402.01 L161.83 400.82 L162.59 401.80 L163.75 401.01 L164.72 401.86 L165.51 400.52 L166.44 401.55 L167.15 401.07 L167.95 402.10 L169.14 400.34 L170.00 401.20" fill="none" stroke="#888" stroke-width="0.5" stroke-linejoin="round"/>
</g>
<line x1="223.20" y1="312.60" x2="223.20" y2="402.40" stroke="#d0d0d0" stroke-width="0.8"/>
<line x1="130.00" y1="312.30" x2="130.00" y2="404.00" stroke="#000" stroke-width="1.9"/>
<line x1="129.00" y1="403.10" x2="223.70" y2="403.10" stroke="#000" stroke-width="1.9"/>
<line x1="127.80" y1="402.40" x2="130.00" y2="402.40" stroke="#000" stroke-width="0.8"/>
<line x1="127.80" y1="393.50" x2="130.00" y2="393.50" stroke="#000" stroke-width="0.8"/>
<line x1="127.80" y1="384.60" x2="130.00" y2="384.60" stroke="#000" stroke-width="0.8"/>
<line x1="127.80" y1="375.70" x2="130.00" y2="375.70" stroke="#000" stroke-width="0.8"/>
<line x1="127.80" y1="366.80" x2="130.00" y2="366.80" stroke="#000" stroke-width="0.8"/>
<line x1="127.80" y1="357.90" x2="130.00" y2="357.90" stroke="#000" stroke-width="0.8"/>
<line x1="127.80" y1="349.00" x2="130.00" y2="349.00" stroke="#000" stroke-width="0.8"/>
<line x1="127.80" y1="340.10" x2="130.00" y2="340.10" stroke="#000" stroke-width="0.8"/>
<line x1="127.80" y1="331.20" x2="130.00" y2="331.20" stroke="#000" stroke-width="0.8"/>
<line x1="127.80" y1="322.30" x2="130.00" y2="322.30" stroke="#000" stroke-width="0.8"/>
<line x1="127.80" y1="313.40" x2="130.00" y2="313.40" stroke="#000" stroke-width="0.8"/>
<line x1="137.01" y1="403.10" x2="137.01" y2="405.00" stroke="#000" stroke-width="0.8"/>
<line x1="141.12" y1="403.10" x2="141.12" y2="405.00" stroke="#000" stroke-width="0.8"/>
<line x1="144.03" y1="403.10" x2="144.03" y2="405.00" stroke="#000" stroke-width="0.8"/>
<line x1="146.29" y1="403.10" x2="146.29" y2="405.00" stroke="#000" stroke-width="0.8"/>
<line x1="148.13" y1="403.10" x2="148.13" y2="405.00" stroke="#000" stroke-width="0.8"/>
<line x1="149.69" y1="403.10" x2="149.69" y2="405.00" stroke="#000" stroke-width="0.8"/>
<line x1="151.04" y1="403.10" x2="151.04" y2="405.00" stroke="#000" stroke-width="0.8"/>
<line x1="152.23" y1="403.10" x2="152.23" y2="405.00" stroke="#000" stroke-width="0.8"/>
<line x1="153.30" y1="403.10" x2="153.30" y2="405.70" stroke="#000" stroke-width="0.8"/>
<line x1="160.31" y1="403.10" x2="160.31" y2="405.00" stroke="#000" stroke-width="0.8"/>
<line x1="164.42" y1="403.10" x2="164.42" y2="405.00" stroke="#000" stroke-width="0.8"/>
<line x1="167.33" y1="403.10" x2="167.33" y2="405.00" stroke="#000" stroke-width="0.8"/>
<line x1="169.59" y1="403.10" x2="169.59" y2="405.00" stroke="#000" stroke-width="0.8"/>
<line x1="171.43" y1="403.10" x2="171.43" y2="405.00" stroke="#000" stroke-width="0.8"/>
<line x1="172.99" y1="403.10" x2="172.99" y2="405.00" stroke="#000" stroke-width="0.8"/>
<line x1="174.34" y1="403.10" x2="174.34" y2="405.00" stroke="#000" stroke-width="0.8"/>
<line x1="175.53" y1="403.10" x2="175.53" y2="405.00" stroke="#000" stroke-width="0.8"/>
<line x1="176.60" y1="403.10" x2="176.60" y2="405.70" stroke="#000" stroke-width="0.8"/>
<line x1="183.61" y1="403.10" x2="183.61" y2="405.00" stroke="#000" stroke-width="0.8"/>
<line x1="187.72" y1="403.10" x2="187.72" y2="405.00" stroke="#000" stroke-width="0.8"/>
<line x1="190.63" y1="403.10" x2="190.63" y2="405.00" stroke="#000" stroke-width="0.8"/>
<line x1="192.89" y1="403.10" x2="192.89" y2="405.00" stroke="#000" stroke-width="0.8"/>
<line x1="194.73" y1="403.10" x2="194.73" y2="405.00" stroke="#000" stroke-width="0.8"/>
<line x1="196.29" y1="403.10" x2="196.29" y2="405.00" stroke="#000" stroke-width="0.8"/>
<line x1="197.64" y1="403.10" x2="197.64" y2="405.00" stroke="#000" stroke-width="0.8"/>
<line x1="198.83" y1="403.10" x2="198.83" y2="405.00" stroke="#000" stroke-width="0.8"/>
<line x1="199.90" y1="403.10" x2="199.90" y2="405.70" stroke="#000" stroke-width="0.8"/>
<line x1="206.91" y1="403.10" x2="206.91" y2="405.00" stroke="#000" stroke-width="0.8"/>
<line x1="211.02" y1="403.10" x2="211.02" y2="405.00" stroke="#000" stroke-width="0.8"/>
<line x1="213.93" y1="403.10" x2="213.93" y2="405.00" stroke="#000" stroke-width="0.8"/>
<line x1="216.19" y1="403.10" x2="216.19" y2="405.00" stroke="#000" stroke-width="0.8"/>
<line x1="218.03" y1="403.10" x2="218.03" y2="405.00" stroke="#000" stroke-width="0.8"/>
<line x1="219.59" y1="403.10" x2="219.59" y2="405.00" stroke="#000" stroke-width="0.8"/>
<line x1="220.94" y1="403.10" x2="220.94" y2="405.00" stroke="#000" stroke-width="0.8"/>
<line x1="222.13" y1="403.10" x2="222.13" y2="405.00" stroke="#000" stroke-width="0.8"/>
<text x="134.20" y="308.30" font-size="8.85" font-weight="bold" text-anchor="start" fill="#000" stroke="#000" stroke-width="0.22">NMuMG-TAZ-S89A</text>
<text x="126.40" y="400.90" font-size="7" font-weight="bold" text-anchor="start" fill="#000" stroke="#000" stroke-width="0.3" transform="rotate(-90 126.40 400.90)">Cell Count</text>
<line x1="124.00" y1="363.90" x2="124.00" y2="314.20" stroke="#000" stroke-width="1.05"/>
<path d="M120.10 318.40 L124.00 313.80 L127.90 318.40" fill="none" stroke="#000" stroke-width="1.1"/>
<text x="128.50" y="412.80" font-size="7" font-weight="bold">Log<tspan font-size="4.4" dy="1.2">10</tspan><tspan dy="-1.2"> Fluorescence</tspan></text>
<line x1="193.50" y1="410.60" x2="222.00" y2="410.60" stroke="#000" stroke-width="1.05"/>
<path d="M217.40 406.70 L222.20 410.60 L217.40 414.50" fill="none" stroke="#000" stroke-width="1.1"/>
<clipPath id="cp3"><rect x="237.20" y="312.40" width="94.30" height="89.80"/></clipPath>
<g clip-path="url(#cp3)">
<path d="M243.20 402.20 C243.70 401.62 245.17 401.30 246.20 398.70 C247.23 396.10 248.40 392.10 249.40 386.60 C250.40 381.10 251.38 373.82 252.20 365.70 C253.02 357.58 253.70 345.82 254.30 337.90 C254.90 329.98 255.38 322.40 255.80 318.20 C256.22 314.00 256.50 314.03 256.80 312.70 C257.10 311.37 257.30 310.20 257.60 310.20 C257.90 310.20 258.27 311.37 258.60 312.70 C258.93 314.03 259.12 314.00 259.60 318.20 C260.08 322.40 260.70 329.98 261.50 337.90 C262.30 345.82 263.53 357.58 264.40 365.70 C265.27 373.82 265.82 381.03 266.70 386.60 C267.58 392.17 268.95 396.50 269.70 399.10 C270.45 401.70 270.95 401.68 271.20 402.20 L271.20 404.20 L243.20 404.20 Z" fill="#d2d2d2" opacity="1"/>
<path d="M245.70 402.20 C245.78 401.68 245.53 401.70 246.20 399.10 C246.87 396.50 248.65 392.17 249.70 386.60 C250.75 381.03 251.68 373.82 252.50 365.70 C253.32 357.58 254.02 345.82 254.60 337.90 C255.18 329.98 255.62 322.40 256.00 318.20 C256.38 314.00 256.63 314.03 256.90 312.70 C257.17 311.37 257.35 310.20 257.60 310.20 C257.85 310.20 258.15 311.37 258.40 312.70 C258.65 314.03 258.68 314.00 259.10 318.20 C259.52 322.40 260.13 329.98 260.90 337.90 C261.67 345.82 262.90 357.58 263.70 365.70 C264.50 373.82 264.90 381.03 265.70 386.60 C266.50 392.17 267.92 396.50 268.50 399.10 C269.08 401.70 269.08 401.68 269.20 402.20 L269.20 404.20 L245.70 404.20 Z" fill="#5a5a5a" opacity="1"/>
<path d="M237.70 401.90 C237.85 401.58 237.93 401.12 238.60 400.00 C239.27 398.88 240.55 397.43 241.70 395.20 C242.85 392.97 244.28 391.52 245.50 386.60 C246.72 381.68 247.95 373.82 249.00 365.70 C250.05 357.58 250.98 346.72 251.80 337.90 C252.62 329.08 253.47 318.08 253.90 312.80 C254.33 307.52 254.32 307.30 254.40 306.20" fill="none" stroke="#777" stroke-width="0.6"/>
<path d="M267.70 400.26 L268.85 400.52 L270.00 394.99 L271.15 396.07 L272.30 387.17 L273.45 391.03 L274.60 383.21 L275.75 386.25 L276.90 378.47 L278.05 383.44 L279.20 374.21 L280.35 380.25 L281.50 369.86 L282.65 375.60 L283.80 369.10 L284.95 369.84 L286.10 360.28 L287.25 363.95 L288.40 354.13 L289.55 361.35 L290.70 352.78 L291.85 358.00 L293.00 352.26 L294.15 361.75 L295.30 351.19 L296.45 361.06 L297.60 355.12 L298.75 366.88 L299.90 361.65 L301.05 369.38 L302.20 364.79 L303.35 373.50 L304.50 364.46 L305.65 375.24 L306.80 368.40 L307.95 370.15 L309.10 361.40 L310.25 367.95 L311.40 359.50 L312.55 365.41 L313.70 350.87 L314.85 357.63 L316.00 349.24 L317.15 353.47 L318.30 341.00 L319.45 348.66 L320.60 335.64 L321.75 342.42 L322.90 333.73 L324.05 334.61 L325.20 323.97 L326.35 333.48 L327.50 317.39 L328.65 327.27 L329.80 308.72" fill="none" stroke="#a0a0a0" stroke-width="0.5" stroke-linejoin="round"/>
<path d="M270.70 402.20 L271.85 402.20 L273.00 396.59 L274.15 396.04 L275.30 388.40 L276.45 392.85 L277.60 385.12 L278.75 388.17 L279.90 382.87 L281.05 384.32 L282.20 377.50 L283.35 382.61 L284.50 372.70 L285.65 378.62 L286.80 369.21 L287.95 371.49 L289.10 361.04 L290.25 369.17 L291.40 357.21 L292.55 359.73 L293.70 351.41 L294.85 357.75 L296.00 349.05 L297.15 361.69 L298.30 354.61 L299.45 364.72 L300.60 358.57 L301.75 364.57 L302.90 363.48 L304.05 372.41 L305.20 362.48 L306.35 371.85 L307.50 364.91 L308.65 374.46 L309.80 369.65 L310.95 374.47 L312.10 363.05 L313.25 371.29 L314.40 358.14 L315.55 362.33 L316.70 353.63 L317.85 362.21 L319.00 345.79 L320.15 352.80 L321.30 341.56 L322.45 350.56 L323.60 339.43 L324.75 347.45 L325.90 329.26 L327.05 335.49 L328.20 324.23 L329.35 332.11 L330.50 320.85 L331.65 327.75 L332.80 305.97" fill="none" stroke="#bcbcbc" stroke-width="0.5" stroke-linejoin="round"/>
</g>
<line x1="331.50" y1="312.40" x2="331.50" y2="402.20" stroke="#d0d0d0" stroke-width="0.8"/>
<line x1="237.20" y1="312.10" x2="237.20" y2="403.80" stroke="#000" stroke-width="1.9"/>
<line x1="236.20" y1="402.90" x2="332.00" y2="402.90" stroke="#000" stroke-width="1.9"/>
<line x1="235.00" y1="402.20" x2="237.20" y2="402.20" stroke="#000" stroke-width="0.8"/>
<line x1="235.00" y1="393.30" x2="237.20" y2="393.30" stroke="#000" stroke-width="0.8"/>
<line x1="235.00" y1="384.40" x2="237.20" y2="384.40" stroke="#000" stroke-width="0.8"/>
<line x1="235.00" y1="375.50" x2="237.20" y2="375.50" stroke="#000" stroke-width="0.8"/>
<line x1="235.00" y1="366.60" x2="237.20" y2="366.60" stroke="#000" stroke-width="0.8"/>
<line x1="235.00" y1="357.70" x2="237.20" y2="357.70" stroke="#000" stroke-width="0.8"/>
<line x1="235.00" y1="348.80" x2="237.20" y2="348.80" stroke="#000" stroke-width="0.8"/>
<line x1="235.00" y1="339.90" x2="237.20" y2="339.90" stroke="#000" stroke-width="0.8"/>
<line x1="235.00" y1="331.00" x2="237.20" y2="331.00" stroke="#000" stroke-width="0.8"/>
<line x1="235.00" y1="322.10" x2="237.20" y2="322.10" stroke="#000" stroke-width="0.8"/>
<line x1="235.00" y1="313.20" x2="237.20" y2="313.20" stroke="#000" stroke-width="0.8"/>
<line x1="244.30" y1="402.90" x2="244.30" y2="404.80" stroke="#000" stroke-width="0.8"/>
<line x1="248.45" y1="402.90" x2="248.45" y2="404.80" stroke="#000" stroke-width="0.8"/>
<line x1="251.39" y1="402.90" x2="251.39" y2="404.80" stroke="#000" stroke-width="0.8"/>
<line x1="253.68" y1="402.90" x2="253.68" y2="404.80" stroke="#000" stroke-width="0.8"/>
<line x1="255.54" y1="402.90" x2="255.54" y2="404.80" stroke="#000" stroke-width="0.8"/>
<line x1="257.12" y1="402.90" x2="257.12" y2="404.80" stroke="#000" stroke-width="0.8"/>
<line x1="258.49" y1="402.90" x2="258.49" y2="404.80" stroke="#000" stroke-width="0.8"/>
<line x1="259.70" y1="402.90" x2="259.70" y2="404.80" stroke="#000" stroke-width="0.8"/>
<line x1="260.77" y1="402.90" x2="260.77" y2="405.50" stroke="#000" stroke-width="0.8"/>
<line x1="267.87" y1="402.90" x2="267.87" y2="404.80" stroke="#000" stroke-width="0.8"/>
<line x1="272.02" y1="402.90" x2="272.02" y2="404.80" stroke="#000" stroke-width="0.8"/>
<line x1="274.97" y1="402.90" x2="274.97" y2="404.80" stroke="#000" stroke-width="0.8"/>
<line x1="277.25" y1="402.90" x2="277.25" y2="404.80" stroke="#000" stroke-width="0.8"/>
<line x1="279.12" y1="402.90" x2="279.12" y2="404.80" stroke="#000" stroke-width="0.8"/>
<line x1="280.70" y1="402.90" x2="280.70" y2="404.80" stroke="#000" stroke-width="0.8"/>
<line x1="282.07" y1="402.90" x2="282.07" y2="404.80" stroke="#000" stroke-width="0.8"/>
<line x1="283.27" y1="402.90" x2="283.27" y2="404.80" stroke="#000" stroke-width="0.8"/>
<line x1="284.35" y1="402.90" x2="284.35" y2="405.50" stroke="#000" stroke-width="0.8"/>
<line x1="291.45" y1="402.90" x2="291.45" y2="404.80" stroke="#000" stroke-width="0.8"/>
<line x1="295.60" y1="402.90" x2="295.60" y2="404.80" stroke="#000" stroke-width="0.8"/>
<line x1="298.54" y1="402.90" x2="298.54" y2="404.80" stroke="#000" stroke-width="0.8"/>
<line x1="300.83" y1="402.90" x2="300.83" y2="404.80" stroke="#000" stroke-width="0.8"/>
<line x1="302.69" y1="402.90" x2="302.69" y2="404.80" stroke="#000" stroke-width="0.8"/>
<line x1="304.27" y1="402.90" x2="304.27" y2="404.80" stroke="#000" stroke-width="0.8"/>
<line x1="305.64" y1="402.90" x2="305.64" y2="404.80" stroke="#000" stroke-width="0.8"/>
<line x1="306.85" y1="402.90" x2="306.85" y2="404.80" stroke="#000" stroke-width="0.8"/>
<line x1="307.93" y1="402.90" x2="307.93" y2="405.50" stroke="#000" stroke-width="0.8"/>
<line x1="315.02" y1="402.90" x2="315.02" y2="404.80" stroke="#000" stroke-width="0.8"/>
<line x1="319.17" y1="402.90" x2="319.17" y2="404.80" stroke="#000" stroke-width="0.8"/>
<line x1="322.12" y1="402.90" x2="322.12" y2="404.80" stroke="#000" stroke-width="0.8"/>
<line x1="324.40" y1="402.90" x2="324.40" y2="404.80" stroke="#000" stroke-width="0.8"/>
<line x1="326.27" y1="402.90" x2="326.27" y2="404.80" stroke="#000" stroke-width="0.8"/>
<line x1="327.85" y1="402.90" x2="327.85" y2="404.80" stroke="#000" stroke-width="0.8"/>
<line x1="329.22" y1="402.90" x2="329.22" y2="404.80" stroke="#000" stroke-width="0.8"/>
<line x1="330.42" y1="402.90" x2="330.42" y2="404.80" stroke="#000" stroke-width="0.8"/>
<text x="242.90" y="308.10" font-size="8.85" font-weight="bold" text-anchor="start" fill="#000" stroke="#000" stroke-width="0.22">E10-TAZ-S89A</text>
<text x="233.60" y="400.70" font-size="7" font-weight="bold" text-anchor="start" fill="#000" stroke="#000" stroke-width="0.3" transform="rotate(-90 233.60 400.70)">Cell Count</text>
<line x1="231.20" y1="363.70" x2="231.20" y2="314.00" stroke="#000" stroke-width="1.05"/>
<path d="M227.30 318.20 L231.20 313.60 L235.10 318.20" fill="none" stroke="#000" stroke-width="1.1"/>
<text x="235.70" y="412.60" font-size="7" font-weight="bold">Log<tspan font-size="4.4" dy="1.2">10</tspan><tspan dy="-1.2"> Fluorescence</tspan></text>
<line x1="300.70" y1="410.40" x2="330.30" y2="410.40" stroke="#000" stroke-width="1.05"/>
<path d="M325.70 406.50 L330.50 410.40 L325.70 414.30" fill="none" stroke="#000" stroke-width="1.1"/>
<clipPath id="cp4"><rect x="346.40" y="312.60" width="94.20" height="89.20"/></clipPath>
<g clip-path="url(#cp4)">
<path d="M360.40 401.80 C361.40 400.47 364.57 397.30 366.40 393.80 C368.23 390.30 370.07 386.13 371.40 380.80 C372.73 375.47 373.48 371.63 374.40 361.80 C375.32 351.97 376.23 330.47 376.90 321.80 C377.57 313.13 377.48 311.80 378.40 309.80 C379.32 307.80 381.17 309.30 382.40 309.80 C383.63 310.30 384.47 307.38 385.80 312.80 C387.13 318.22 388.65 333.85 390.40 342.30 C392.15 350.75 394.25 356.45 396.30 363.50 C398.35 370.55 400.75 378.62 402.70 384.60 C404.65 390.58 406.72 396.53 408.00 399.40 C409.28 402.27 410.00 401.40 410.40 401.80 L410.40 403.80 L360.40 403.80 Z" fill="#e4e4e4" opacity="1"/>
<path d="M365.70 401.80 C366.22 400.37 367.75 396.77 368.80 393.20 C369.85 389.63 371.12 385.35 372.00 380.40 C372.88 375.45 373.22 373.37 374.10 363.50 C374.98 353.63 376.58 329.65 377.30 321.20 C378.02 312.75 377.88 314.70 378.40 312.80 C378.92 310.90 379.70 309.80 380.40 309.80 C381.10 309.80 381.98 310.90 382.60 312.80 C383.22 314.70 383.22 312.75 384.10 321.20 C384.98 329.65 386.75 353.63 387.90 363.50 C389.05 373.37 390.45 377.35 391.00 380.40 C391.55 383.45 391.97 379.90 391.20 381.80 C390.43 383.70 387.93 388.52 386.40 391.80 C384.87 395.08 382.83 399.83 382.00 401.50 C381.17 403.17 381.50 401.75 381.40 401.80 L381.40 403.80 L365.70 403.80 Z" fill="#626262" opacity="1"/>
<path d="M380.90 401.80 C381.08 401.73 381.08 403.07 382.00 401.40 C382.92 399.73 384.87 395.15 386.40 391.80 C387.93 388.45 390.03 382.38 391.20 381.30 C392.37 380.22 392.37 383.38 393.40 385.30 C394.43 387.22 395.90 390.63 397.40 392.80 C398.90 394.97 400.82 396.93 402.40 398.30 C403.98 399.67 405.73 400.42 406.90 401.00 C408.07 401.58 408.98 401.67 409.40 401.80 L409.40 403.80 L380.90 403.80 Z" fill="#b2b2b2" opacity="1"/>
<path d="M362.90 401.50 C363.02 401.38 362.97 403.05 363.60 400.80 C364.23 398.55 365.90 393.67 366.70 388.00 C367.50 382.33 367.95 373.83 368.40 366.80 C368.85 359.77 368.98 352.87 369.40 345.80 C369.82 338.73 370.35 329.90 370.90 324.40 C371.45 318.90 372.20 315.40 372.70 312.80 C373.20 310.20 373.70 309.47 373.90 308.80" fill="none" stroke="#8a8a8a" stroke-width="0.6"/>
<path d="M385.80 312.80 C386.57 317.72 388.65 333.85 390.40 342.30 C392.15 350.75 394.25 356.45 396.30 363.50 C398.35 370.55 400.75 378.62 402.70 384.60 C404.65 390.58 406.72 396.57 408.00 399.40 C409.28 402.23 410.00 401.23 410.40 401.60" fill="none" stroke="#9a9a9a" stroke-width="0.5"/>
<path d="M381.90 309.75 L383.05 321.93 L384.20 316.36 L385.35 327.21 L386.50 314.81 L387.65 331.57 L388.80 321.97 L389.95 341.05 L391.10 331.22 L392.25 344.42 L393.40 340.71 L394.55 354.78 L395.70 348.70 L396.85 357.36 L398.00 347.26 L399.15 359.82 L400.30 349.93 L401.45 361.65 L402.60 353.38 L403.75 364.50 L404.90 355.63 L406.05 365.85 L407.20 361.55 L408.35 368.75 L409.50 365.00 L410.65 372.47 L411.80 367.55 L412.95 376.81 L414.10 370.27 L415.25 376.97 L416.40 369.78 L417.55 373.56 L418.70 364.26 L419.85 372.99 L421.00 362.37 L422.15 365.26 L423.30 357.49 L424.45 363.79 L425.60 353.48 L426.75 362.03 L427.90 351.58 L429.05 354.02 L430.20 343.84 L431.35 347.43 L432.50 337.75 L433.65 344.12 L434.80 331.35 L435.95 339.65 L437.10 321.03 L438.25 323.90 L439.40 305.19" fill="none" stroke="#a0a0a0" stroke-width="0.5" stroke-linejoin="round"/>
<path d="M384.40 308.92 L385.55 326.42 L386.70 308.78 L387.85 324.02 L389.00 316.61 L390.15 336.27 L391.30 325.08 L392.45 337.33 L393.60 332.40 L394.75 348.03 L395.90 341.05 L397.05 356.02 L398.20 348.59 L399.35 360.65 L400.50 352.10 L401.65 361.03 L402.80 349.29 L403.95 364.04 L405.10 352.12 L406.25 361.41 L407.40 356.40 L408.55 368.53 L409.70 361.59 L410.85 367.04 L412.00 362.83 L413.15 373.41 L414.30 365.82 L415.45 375.41 L416.60 373.59 L417.75 378.99 L418.90 369.18 L420.05 376.68 L421.20 369.58 L422.35 371.38 L423.50 364.76 L424.65 367.34 L425.80 356.51 L426.95 363.79 L428.10 353.85 L429.25 358.75 L430.40 349.57 L431.55 359.37 L432.70 345.51 L433.85 350.28 L435.00 337.00 L436.15 347.65 L437.30 334.17 L438.45 338.04 L439.60 319.71 L440.75 327.23 L441.90 306.72" fill="none" stroke="#bcbcbc" stroke-width="0.5" stroke-linejoin="round"/>
</g>
<line x1="440.60" y1="312.60" x2="440.60" y2="401.80" stroke="#d0d0d0" stroke-width="0.8"/>
<line x1="346.40" y1="312.30" x2="346.40" y2="403.40" stroke="#000" stroke-width="1.9"/>
<line x1="345.40" y1="402.50" x2="441.10" y2="402.50" stroke="#000" stroke-width="1.9"/>
<line x1="344.20" y1="401.80" x2="346.40" y2="401.80" stroke="#000" stroke-width="0.8"/>
<line x1="344.20" y1="392.90" x2="346.40" y2="392.90" stroke="#000" stroke-width="0.8"/>
<line x1="344.20" y1="384.00" x2="346.40" y2="384.00" stroke="#000" stroke-width="0.8"/>
<line x1="344.20" y1="375.10" x2="346.40" y2="375.10" stroke="#000" stroke-width="0.8"/>
<line x1="344.20" y1="366.20" x2="346.40" y2="366.20" stroke="#000" stroke-width="0.8"/>
<line x1="344.20" y1="357.30" x2="346.40" y2="357.30" stroke="#000" stroke-width="0.8"/>
<line x1="344.20" y1="348.40" x2="346.40" y2="348.40" stroke="#000" stroke-width="0.8"/>
<line x1="344.20" y1="339.50" x2="346.40" y2="339.50" stroke="#000" stroke-width="0.8"/>
<line x1="344.20" y1="330.60" x2="346.40" y2="330.60" stroke="#000" stroke-width="0.8"/>
<line x1="344.20" y1="321.70" x2="346.40" y2="321.70" stroke="#000" stroke-width="0.8"/>
<line x1="344.20" y1="312.80" x2="346.40" y2="312.80" stroke="#000" stroke-width="0.8"/>
<line x1="353.49" y1="402.50" x2="353.49" y2="404.40" stroke="#000" stroke-width="0.8"/>
<line x1="357.64" y1="402.50" x2="357.64" y2="404.40" stroke="#000" stroke-width="0.8"/>
<line x1="360.58" y1="402.50" x2="360.58" y2="404.40" stroke="#000" stroke-width="0.8"/>
<line x1="362.86" y1="402.50" x2="362.86" y2="404.40" stroke="#000" stroke-width="0.8"/>
<line x1="364.73" y1="402.50" x2="364.73" y2="404.40" stroke="#000" stroke-width="0.8"/>
<line x1="366.30" y1="402.50" x2="366.30" y2="404.40" stroke="#000" stroke-width="0.8"/>
<line x1="367.67" y1="402.50" x2="367.67" y2="404.40" stroke="#000" stroke-width="0.8"/>
<line x1="368.87" y1="402.50" x2="368.87" y2="404.40" stroke="#000" stroke-width="0.8"/>
<line x1="369.95" y1="402.50" x2="369.95" y2="405.10" stroke="#000" stroke-width="0.8"/>
<line x1="377.04" y1="402.50" x2="377.04" y2="404.40" stroke="#000" stroke-width="0.8"/>
<line x1="381.19" y1="402.50" x2="381.19" y2="404.40" stroke="#000" stroke-width="0.8"/>
<line x1="384.13" y1="402.50" x2="384.13" y2="404.40" stroke="#000" stroke-width="0.8"/>
<line x1="386.41" y1="402.50" x2="386.41" y2="404.40" stroke="#000" stroke-width="0.8"/>
<line x1="388.28" y1="402.50" x2="388.28" y2="404.40" stroke="#000" stroke-width="0.8"/>
<line x1="389.85" y1="402.50" x2="389.85" y2="404.40" stroke="#000" stroke-width="0.8"/>
<line x1="391.22" y1="402.50" x2="391.22" y2="404.40" stroke="#000" stroke-width="0.8"/>
<line x1="392.42" y1="402.50" x2="392.42" y2="404.40" stroke="#000" stroke-width="0.8"/>
<line x1="393.50" y1="402.50" x2="393.50" y2="405.10" stroke="#000" stroke-width="0.8"/>
<line x1="400.59" y1="402.50" x2="400.59" y2="404.40" stroke="#000" stroke-width="0.8"/>
<line x1="404.74" y1="402.50" x2="404.74" y2="404.40" stroke="#000" stroke-width="0.8"/>
<line x1="407.68" y1="402.50" x2="407.68" y2="404.40" stroke="#000" stroke-width="0.8"/>
<line x1="409.96" y1="402.50" x2="409.96" y2="404.40" stroke="#000" stroke-width="0.8"/>
<line x1="411.83" y1="402.50" x2="411.83" y2="404.40" stroke="#000" stroke-width="0.8"/>
<line x1="413.40" y1="402.50" x2="413.40" y2="404.40" stroke="#000" stroke-width="0.8"/>
<line x1="414.77" y1="402.50" x2="414.77" y2="404.40" stroke="#000" stroke-width="0.8"/>
<line x1="415.97" y1="402.50" x2="415.97" y2="404.40" stroke="#000" stroke-width="0.8"/>
<line x1="417.05" y1="402.50" x2="417.05" y2="405.10" stroke="#000" stroke-width="0.8"/>
<line x1="424.14" y1="402.50" x2="424.14" y2="404.40" stroke="#000" stroke-width="0.8"/>
<line x1="428.29" y1="402.50" x2="428.29" y2="404.40" stroke="#000" stroke-width="0.8"/>
<line x1="431.23" y1="402.50" x2="431.23" y2="404.40" stroke="#000" stroke-width="0.8"/>
<line x1="433.51" y1="402.50" x2="433.51" y2="404.40" stroke="#000" stroke-width="0.8"/>
<line x1="435.38" y1="402.50" x2="435.38" y2="404.40" stroke="#000" stroke-width="0.8"/>
<line x1="436.95" y1="402.50" x2="436.95" y2="404.40" stroke="#000" stroke-width="0.8"/>
<line x1="438.32" y1="402.50" x2="438.32" y2="404.40" stroke="#000" stroke-width="0.8"/>
<line x1="439.52" y1="402.50" x2="439.52" y2="404.40" stroke="#000" stroke-width="0.8"/>
<text x="352.00" y="308.30" font-size="8.85" font-weight="bold" text-anchor="start" fill="#000" stroke="#000" stroke-width="0.22">B16-OVA-TAZ-S89A</text>
<text x="342.80" y="400.30" font-size="7" font-weight="bold" text-anchor="start" fill="#000" stroke="#000" stroke-width="0.3" transform="rotate(-90 342.80 400.30)">Cell Count</text>
<line x1="340.40" y1="363.30" x2="340.40" y2="314.20" stroke="#000" stroke-width="1.05"/>
<path d="M336.50 318.40 L340.40 313.80 L344.30 318.40" fill="none" stroke="#000" stroke-width="1.1"/>
<text x="344.90" y="412.20" font-size="7" font-weight="bold">Log<tspan font-size="4.4" dy="1.2">10</tspan><tspan dy="-1.2"> Fluorescence</tspan></text>
<line x1="409.90" y1="410.00" x2="439.40" y2="410.00" stroke="#000" stroke-width="1.05"/>
<path d="M434.80 406.10 L439.60 410.00 L434.80 413.90" fill="none" stroke="#000" stroke-width="1.1"/>
<rect x="447.80" y="331.00" width="8.40" height="8.20" fill="#fff" stroke="#8a8a8a" stroke-width="0.8"/>
<text x="458.20" y="337.20" font-size="5.9" font-weight="bold" text-anchor="start" fill="#0a0a0a" stroke="#0a0a0a" stroke-width="0.3">Isotype</text>
<rect x="447.80" y="342.80" width="8.40" height="8.20" fill="#dedede" stroke="#9a9a9a" stroke-width="0.8"/>
<text x="458.20" y="349.00" font-size="5.9" font-weight="bold" text-anchor="start" fill="#0a0a0a" stroke="#0a0a0a" stroke-width="0.3">TAZ-S89A (−Dox)</text>
<rect x="447.80" y="354.60" width="8.40" height="8.20" fill="#7e7e7e" stroke="#666" stroke-width="0.8"/>
<text x="458.20" y="360.80" font-size="5.9" font-weight="bold" text-anchor="start" fill="#0a0a0a" stroke="#0a0a0a" stroke-width="0.3">TAZ-S89A (+Dox)</text>
<rect x="447.80" y="365.00" width="8.40" height="8.20" fill="#fff" stroke="#dadada" stroke-width="0.8"/>
<text x="458.20" y="371.20" font-size="5.9" font-weight="bold" text-anchor="start" fill="#0a0a0a" stroke="#0a0a0a" stroke-width="0.3">293T-mPD-L1</text>
<text x="41.00" y="433.80" font-size="14" font-weight="bold" text-anchor="start" fill="#000" stroke="#000" stroke-width="0.22">E</text>
<text x="75.30" y="447.20" font-size="7" font-weight="bold" text-anchor="end" fill="#000" stroke="#000" stroke-width="0.3">Dox</text>
<text x="89.80" y="448.20" font-size="10" font-weight="bold" text-anchor="middle" fill="#000" stroke="#000" stroke-width="0.22">−</text>
<text x="107.60" y="448.60" font-size="10" font-weight="bold" text-anchor="middle" fill="#000" stroke="#000" stroke-width="0.22">+</text>
<rect x="78.10" y="452.50" width="41.60" height="12.80" fill="#cdcdcd" stroke="#000" stroke-width="2.2"/>
<rect x="79.70" y="454.10" width="38.40" height="9.60" fill="none" stroke="#e0e0e0" stroke-width="0.8"/>
<rect x="83.00" y="456.00" width="13.00" height="3.00" rx="1.50" fill="#333" opacity="0.10" filter="url(#blur1)"/>
<rect x="101.30" y="456.30" width="13.80" height="4.00" rx="2.00" fill="#222" opacity="0.78" filter="url(#blur1)"/>
<rect x="101.30" y="460.00" width="13.80" height="2.60" rx="1.30" fill="#333" opacity="0.45" filter="url(#blur1)"/>
<rect x="78.10" y="468.80" width="41.60" height="12.80" fill="#cdcdcd" stroke="#000" stroke-width="2.2"/>
<rect x="79.70" y="470.40" width="38.40" height="9.60" fill="none" stroke="#e0e0e0" stroke-width="0.8"/>
<rect x="82.50" y="473.80" width="14.50" height="2.60" rx="1.30" fill="#000" opacity="0.95" filter="url(#blur1)"/>
<rect x="99.50" y="473.80" width="15.50" height="2.60" rx="1.30" fill="#000" opacity="0.95" filter="url(#blur1)"/>
<rect x="78.10" y="485.50" width="41.60" height="12.80" fill="#cdcdcd" stroke="#000" stroke-width="2.2"/>
<rect x="79.70" y="487.10" width="38.40" height="9.60" fill="none" stroke="#e0e0e0" stroke-width="0.8"/>
<rect x="83.00" y="489.20" width="13.00" height="3.00" rx="1.50" fill="#333" opacity="0.25" filter="url(#blur1)"/>
<rect x="101.00" y="488.60" width="14.20" height="4.20" rx="2.00" fill="#000" opacity="1.00" filter="url(#blur1)"/>
<rect x="101.00" y="493.60" width="14.20" height="2.00" rx="1.00" fill="#111" opacity="0.60" filter="url(#blur1)"/>
<rect x="78.10" y="501.50" width="41.60" height="12.80" fill="#cdcdcd" stroke="#000" stroke-width="2.2"/>
<rect x="79.70" y="503.10" width="38.40" height="9.60" fill="none" stroke="#e0e0e0" stroke-width="0.8"/>
<rect x="82.50" y="507.00" width="14.50" height="2.20" rx="1.10" fill="#222" opacity="0.75" filter="url(#blur1)"/>
<rect x="99.50" y="506.80" width="15.50" height="2.40" rx="1.20" fill="#222" opacity="0.85" filter="url(#blur1)"/>
<text x="75.30" y="460.40" font-size="7" font-weight="bold" text-anchor="end" fill="#000" stroke="#000" stroke-width="0.3">TAZ</text>
<text x="75.30" y="477.30" font-size="7" font-weight="bold" text-anchor="end" fill="#000" stroke="#000" stroke-width="0.3">β-Actin</text>
<text x="75.30" y="493.30" font-size="7" font-weight="bold" text-anchor="end" fill="#000" stroke="#000" stroke-width="0.3">TAZ</text>
<text x="75.30" y="510.00" font-size="7" font-weight="bold" text-anchor="end" fill="#000" stroke="#000" stroke-width="0.3">β-Actin</text>
<rect x="122.40" y="451.40" width="1.80" height="31.00" fill="#000"/>
<rect x="122.40" y="484.40" width="1.80" height="31.10" fill="#000"/>
<text x="143.50" y="466.60" font-size="6" font-weight="bold" text-anchor="middle" fill="#000" stroke="#000" stroke-width="0.3">HC11-</text>
<text x="143.00" y="472.90" font-size="6" font-weight="bold" text-anchor="middle" fill="#000" stroke="#000" stroke-width="0.3">mTAZ-S89A</text>
<text x="143.50" y="496.60" font-size="6" font-weight="bold" text-anchor="middle" fill="#000" stroke="#000" stroke-width="0.3">NMuMG-</text>
<text x="143.00" y="503.60" font-size="6" font-weight="bold" text-anchor="middle" fill="#000" stroke="#000" stroke-width="0.3">mTAZ-S89A</text>
<text x="159.80" y="433.20" font-size="14" font-weight="bold" text-anchor="start" fill="#000" stroke="#000" stroke-width="0.22">F</text>
<clipPath id="cp5"><rect x="186.80" y="436.80" width="95.40" height="90.20"/></clipPath>
<g clip-path="url(#cp5)">
<path d="M196.80 526.60 C197.63 526.47 200.60 526.17 201.80 525.80 C203.00 525.43 203.03 526.08 204.00 524.40 C204.97 522.72 206.62 520.20 207.60 515.70 C208.58 511.20 209.17 503.97 209.90 497.40 C210.63 490.83 211.42 483.35 212.00 476.30 C212.58 469.25 212.90 460.65 213.40 455.10 C213.90 449.55 214.50 445.93 215.00 443.00 C215.50 440.07 215.97 438.83 216.40 437.50 C216.83 436.17 217.17 435.00 217.60 435.00 C218.03 435.00 218.53 436.17 219.00 437.50 C219.47 438.83 219.93 440.07 220.40 443.00 C220.87 445.93 221.20 449.55 221.80 455.10 C222.40 460.65 223.15 469.25 224.00 476.30 C224.85 483.35 225.92 490.83 226.90 497.40 C227.88 503.97 228.58 511.13 229.90 515.70 C231.22 520.27 233.32 523.05 234.80 524.80 C236.28 526.55 237.47 525.88 238.80 526.20 C240.13 526.52 242.13 526.62 242.80 526.70 L242.80 529.00 L196.80 529.00 Z" fill="#c6c6c6" opacity="1"/>
<path d="M204.30 527.00 C204.38 526.63 204.13 526.68 204.80 524.80 C205.47 522.92 207.35 520.27 208.30 515.70 C209.25 511.13 209.78 503.97 210.50 497.40 C211.22 490.83 212.02 483.35 212.60 476.30 C213.18 469.25 213.50 460.65 214.00 455.10 C214.50 449.55 215.15 445.93 215.60 443.00 C216.05 440.07 216.37 438.83 216.70 437.50 C217.03 436.17 217.28 435.00 217.60 435.00 C217.92 435.00 218.27 436.17 218.60 437.50 C218.93 438.83 219.20 440.07 219.60 443.00 C220.00 445.93 220.42 449.55 221.00 455.10 C221.58 460.65 222.28 469.25 223.10 476.30 C223.92 483.35 224.95 490.83 225.90 497.40 C226.85 503.97 227.50 511.13 228.80 515.70 C230.10 520.27 232.70 522.92 233.70 524.80 C234.70 526.68 234.62 526.63 234.80 527.00 L234.80 529.00 L204.30 529.00 Z" fill="#9c9c9c" opacity="1"/>
<path d="M199.80 526.70 C200.30 526.33 201.72 526.28 202.80 524.50 C203.88 522.72 205.30 520.25 206.30 516.00 C207.30 511.75 208.00 505.50 208.80 499.00 C209.60 492.50 210.43 484.33 211.10 477.00 C211.77 469.67 212.27 461.33 212.80 455.00 C213.33 448.67 213.97 443.00 214.30 439.00 C214.63 435.00 214.72 432.33 214.80 431.00" fill="none" stroke="#4a4a4a" stroke-width="0.6"/>
<path d="M220.00 431.00 C220.22 434.00 220.80 442.50 221.30 449.00 C221.80 455.50 222.32 463.00 223.00 470.00 C223.68 477.00 224.50 484.17 225.40 491.00 C226.30 497.83 227.25 505.83 228.40 511.00 C229.55 516.17 230.90 519.50 232.30 522.00 C233.70 524.50 236.05 525.33 236.80 526.00" fill="none" stroke="#666" stroke-width="0.5"/>
<path d="M232.80 525.21 L233.95 526.62 L235.10 522.40 L236.25 524.87 L237.40 516.84 L238.55 522.02 L239.70 514.86 L240.85 515.73 L242.00 511.66 L243.15 512.12 L244.30 508.22 L245.45 510.78 L246.60 503.29 L247.75 508.09 L248.90 498.21 L250.05 503.28 L251.20 497.87 L252.35 500.50 L253.50 495.60 L254.65 499.52 L255.80 492.46 L256.95 494.81 L258.10 486.47 L259.25 494.01 L260.40 483.17 L261.55 494.08 L262.70 481.43 L263.85 486.47 L265.00 479.40 L266.15 481.31 L267.30 470.19 L268.45 477.84 L269.60 467.31 L270.75 469.15 L271.90 461.40 L273.05 467.14 L274.20 458.81 L275.35 461.69 L276.50 452.37 L277.65 458.59 L278.80 445.97 L279.95 454.07 L281.10 434.08 L282.25 441.67" fill="none" stroke="#a0a0a0" stroke-width="0.5" stroke-linejoin="round"/>
<path d="M235.80 526.84 L236.95 527.00 L238.10 522.39 L239.25 524.76 L240.40 519.13 L241.55 521.83 L242.70 515.55 L243.85 517.22 L245.00 512.97 L246.15 513.84 L247.30 506.79 L248.45 509.59 L249.60 504.86 L250.75 507.89 L251.90 500.63 L253.05 505.16 L254.20 496.17 L255.35 504.81 L256.50 494.47 L257.65 498.83 L258.80 490.48 L259.95 499.96 L261.10 490.14 L262.25 497.47 L263.40 484.94 L264.55 495.50 L265.70 485.35 L266.85 487.81 L268.00 476.87 L269.15 483.01 L270.30 474.59 L271.45 476.31 L272.60 465.51 L273.75 472.26 L274.90 464.15 L276.05 470.42 L277.20 460.14 L278.35 467.52 L279.50 455.50 L280.65 464.84 L281.80 450.38 L282.95 452.04 L284.10 438.84 L285.25 447.85" fill="none" stroke="#bcbcbc" stroke-width="0.5" stroke-linejoin="round"/>
<path d="M187.78 525.36 L188.47 526.43 L189.69 525.17 L190.49 526.33 L191.59 525.12 L192.22 526.43 L193.11 525.47 L193.98 526.14 L195.18 525.26 L195.98 525.95 L196.56 524.82 L197.75 526.09 L198.71 525.43 L199.72 526.06 L200.67 525.48 L201.33 526.14 L202.31 525.62 L202.94 526.22 L203.85 525.21 L204.79 526.28 L205.90 525.73 L207.03 526.35 L207.74 525.70 L208.49 526.56 L209.63 525.33 L210.66 526.76 L211.32 525.83 L212.08 526.72 L213.40 525.49 L213.83 526.33 L215.10 525.72 L215.77 526.43 L216.90 525.36 L217.66 526.39 L218.63 525.54 L219.77 526.22 L220.38 525.63 L221.35 526.71 L222.41 525.45 L223.10 526.55 L224.23 525.48 L225.18 526.18 L225.89 525.25 L226.83 526.67 L227.66 525.20 L228.52 526.49 L229.74 525.19 L230.51 526.64 L231.56 525.34 L232.60 526.40 L233.29 525.30 L234.23 526.21 L235.09 525.47 L236.17 526.22 L237.33 525.68 L238.19 526.31 L239.17 525.20 L239.78 526.08 L240.88 525.18 L241.80 525.90" fill="none" stroke="#888" stroke-width="0.5" stroke-linejoin="round"/>
</g>
<line x1="282.20" y1="436.80" x2="282.20" y2="527.00" stroke="#d0d0d0" stroke-width="0.8"/>
<line x1="186.80" y1="436.50" x2="186.80" y2="528.60" stroke="#000" stroke-width="1.9"/>
<line x1="185.80" y1="527.70" x2="282.70" y2="527.70" stroke="#000" stroke-width="1.9"/>
<line x1="184.60" y1="527.00" x2="186.80" y2="527.00" stroke="#000" stroke-width="0.8"/>
<line x1="184.60" y1="518.10" x2="186.80" y2="518.10" stroke="#000" stroke-width="0.8"/>
<line x1="184.60" y1="509.20" x2="186.80" y2="509.20" stroke="#000" stroke-width="0.8"/>
<line x1="184.60" y1="500.30" x2="186.80" y2="500.30" stroke="#000" stroke-width="0.8"/>
<line x1="184.60" y1="491.40" x2="186.80" y2="491.40" stroke="#000" stroke-width="0.8"/>
<line x1="184.60" y1="482.50" x2="186.80" y2="482.50" stroke="#000" stroke-width="0.8"/>
<line x1="184.60" y1="473.60" x2="186.80" y2="473.60" stroke="#000" stroke-width="0.8"/>
<line x1="184.60" y1="464.70" x2="186.80" y2="464.70" stroke="#000" stroke-width="0.8"/>
<line x1="184.60" y1="455.80" x2="186.80" y2="455.80" stroke="#000" stroke-width="0.8"/>
<line x1="184.60" y1="446.90" x2="186.80" y2="446.90" stroke="#000" stroke-width="0.8"/>
<line x1="184.60" y1="438.00" x2="186.80" y2="438.00" stroke="#000" stroke-width="0.8"/>
<line x1="193.98" y1="527.70" x2="193.98" y2="529.60" stroke="#000" stroke-width="0.8"/>
<line x1="198.18" y1="527.70" x2="198.18" y2="529.60" stroke="#000" stroke-width="0.8"/>
<line x1="201.16" y1="527.70" x2="201.16" y2="529.60" stroke="#000" stroke-width="0.8"/>
<line x1="203.47" y1="527.70" x2="203.47" y2="529.60" stroke="#000" stroke-width="0.8"/>
<line x1="205.36" y1="527.70" x2="205.36" y2="529.60" stroke="#000" stroke-width="0.8"/>
<line x1="206.96" y1="527.70" x2="206.96" y2="529.60" stroke="#000" stroke-width="0.8"/>
<line x1="208.34" y1="527.70" x2="208.34" y2="529.60" stroke="#000" stroke-width="0.8"/>
<line x1="209.56" y1="527.70" x2="209.56" y2="529.60" stroke="#000" stroke-width="0.8"/>
<line x1="210.65" y1="527.70" x2="210.65" y2="530.30" stroke="#000" stroke-width="0.8"/>
<line x1="217.83" y1="527.70" x2="217.83" y2="529.60" stroke="#000" stroke-width="0.8"/>
<line x1="222.03" y1="527.70" x2="222.03" y2="529.60" stroke="#000" stroke-width="0.8"/>
<line x1="225.01" y1="527.70" x2="225.01" y2="529.60" stroke="#000" stroke-width="0.8"/>
<line x1="227.32" y1="527.70" x2="227.32" y2="529.60" stroke="#000" stroke-width="0.8"/>
<line x1="229.21" y1="527.70" x2="229.21" y2="529.60" stroke="#000" stroke-width="0.8"/>
<line x1="230.81" y1="527.70" x2="230.81" y2="529.60" stroke="#000" stroke-width="0.8"/>
<line x1="232.19" y1="527.70" x2="232.19" y2="529.60" stroke="#000" stroke-width="0.8"/>
<line x1="233.41" y1="527.70" x2="233.41" y2="529.60" stroke="#000" stroke-width="0.8"/>
<line x1="234.50" y1="527.70" x2="234.50" y2="530.30" stroke="#000" stroke-width="0.8"/>
<line x1="241.68" y1="527.70" x2="241.68" y2="529.60" stroke="#000" stroke-width="0.8"/>
<line x1="245.88" y1="527.70" x2="245.88" y2="529.60" stroke="#000" stroke-width="0.8"/>
<line x1="248.86" y1="527.70" x2="248.86" y2="529.60" stroke="#000" stroke-width="0.8"/>
<line x1="251.17" y1="527.70" x2="251.17" y2="529.60" stroke="#000" stroke-width="0.8"/>
<line x1="253.06" y1="527.70" x2="253.06" y2="529.60" stroke="#000" stroke-width="0.8"/>
<line x1="254.66" y1="527.70" x2="254.66" y2="529.60" stroke="#000" stroke-width="0.8"/>
<line x1="256.04" y1="527.70" x2="256.04" y2="529.60" stroke="#000" stroke-width="0.8"/>
<line x1="257.26" y1="527.70" x2="257.26" y2="529.60" stroke="#000" stroke-width="0.8"/>
<line x1="258.35" y1="527.70" x2="258.35" y2="530.30" stroke="#000" stroke-width="0.8"/>
<line x1="265.53" y1="527.70" x2="265.53" y2="529.60" stroke="#000" stroke-width="0.8"/>
<line x1="269.73" y1="527.70" x2="269.73" y2="529.60" stroke="#000" stroke-width="0.8"/>
<line x1="272.71" y1="527.70" x2="272.71" y2="529.60" stroke="#000" stroke-width="0.8"/>
<line x1="275.02" y1="527.70" x2="275.02" y2="529.60" stroke="#000" stroke-width="0.8"/>
<line x1="276.91" y1="527.70" x2="276.91" y2="529.60" stroke="#000" stroke-width="0.8"/>
<line x1="278.51" y1="527.70" x2="278.51" y2="529.60" stroke="#000" stroke-width="0.8"/>
<line x1="279.89" y1="527.70" x2="279.89" y2="529.60" stroke="#000" stroke-width="0.8"/>
<line x1="281.11" y1="527.70" x2="281.11" y2="529.60" stroke="#000" stroke-width="0.8"/>
<text x="192.30" y="432.50" font-size="8.85" font-weight="bold" text-anchor="start" fill="#000" stroke="#000" stroke-width="0.22">HC11-mTAZ-S89A</text>
<text x="183.20" y="525.50" font-size="7" font-weight="bold" text-anchor="start" fill="#000" stroke="#000" stroke-width="0.3" transform="rotate(-90 183.20 525.50)">Cell Count</text>
<line x1="180.80" y1="488.50" x2="180.80" y2="438.40" stroke="#000" stroke-width="1.05"/>
<path d="M176.90 442.60 L180.80 438.00 L184.70 442.60" fill="none" stroke="#000" stroke-width="1.1"/>
<text x="185.30" y="537.40" font-size="7" font-weight="bold">Log<tspan font-size="4.4" dy="1.2">10</tspan><tspan dy="-1.2"> Fluorescence</tspan></text>
<line x1="250.30" y1="535.20" x2="281.00" y2="535.20" stroke="#000" stroke-width="1.05"/>
<path d="M276.40 531.30 L281.20 535.20 L276.40 539.10" fill="none" stroke="#000" stroke-width="1.1"/>
<clipPath id="cp6"><rect x="298.50" y="437.20" width="95.70" height="89.80"/></clipPath>
<g clip-path="url(#cp6)">
<path d="M306.50 526.70 C307.00 526.42 308.33 526.83 309.50 525.00 C310.67 523.17 312.25 520.30 313.50 515.70 C314.75 511.10 316.05 503.97 317.00 497.40 C317.95 490.83 318.53 483.37 319.20 476.30 C319.87 469.23 320.57 460.55 321.00 455.00 C321.43 449.45 321.52 445.92 321.80 443.00 C322.08 440.08 322.33 438.83 322.70 437.50 C323.07 436.17 323.32 435.00 324.00 435.00 C324.68 435.00 326.00 436.17 326.80 437.50 C327.60 438.83 328.27 440.75 328.80 443.00 C329.33 445.25 329.55 447.00 330.00 451.00 C330.45 455.00 330.83 461.00 331.50 467.00 C332.17 473.00 333.08 480.33 334.00 487.00 C334.92 493.67 335.92 501.67 337.00 507.00 C338.08 512.33 339.08 516.00 340.50 519.00 C341.92 522.00 343.33 523.75 345.50 525.00 C347.67 526.25 352.17 526.25 353.50 526.50 L353.50 529.00 L306.50 529.00 Z" fill="#d2d2d2" opacity="1"/>
<path d="M313.80 527.00 C313.88 526.67 313.63 526.88 314.30 525.00 C314.97 523.12 316.75 520.30 317.80 515.70 C318.85 511.10 319.90 503.97 320.60 497.40 C321.30 490.83 321.58 483.37 322.00 476.30 C322.42 469.23 322.82 460.55 323.10 455.00 C323.38 449.45 323.47 445.92 323.70 443.00 C323.93 440.08 324.20 438.83 324.50 437.50 C324.80 436.17 325.13 435.00 325.50 435.00 C325.87 435.00 326.33 436.17 326.70 437.50 C327.07 438.83 327.30 440.08 327.70 443.00 C328.10 445.92 328.40 449.45 329.10 455.00 C329.80 460.55 330.97 469.23 331.90 476.30 C332.83 483.37 333.63 490.83 334.70 497.40 C335.77 503.97 337.00 511.10 338.30 515.70 C339.60 520.30 341.63 523.12 342.50 525.00 C343.37 526.88 343.33 526.67 343.50 527.00 L343.50 529.00 L313.80 529.00 Z" fill="#7c7c7c" opacity="1"/>
<path d="M303.50 526.80 C303.90 526.50 304.98 526.30 305.90 525.00 C306.82 523.70 308.07 521.50 309.00 519.00 C309.93 516.50 310.38 517.12 311.50 510.00 C312.62 502.88 314.53 485.47 315.70 476.30 C316.87 467.13 317.68 461.05 318.50 455.00 C319.32 448.95 320.13 444.00 320.60 440.00 C321.07 436.00 321.18 432.50 321.30 431.00" fill="none" stroke="#4a4a4a" stroke-width="0.6"/>
<path d="M324.50 431.00 C324.72 432.83 325.38 437.67 325.80 442.00 C326.22 446.33 326.80 454.50 327.00 457.00" fill="none" stroke="#666" stroke-width="0.5"/>
<path d="M340.50 524.21 L341.65 524.59 L342.80 517.63 L343.95 519.80 L345.10 512.65 L346.25 515.33 L347.40 510.24 L348.55 514.61 L349.70 506.63 L350.85 512.51 L352.00 504.88 L353.15 507.98 L354.30 502.87 L355.45 505.36 L356.60 502.08 L357.75 505.36 L358.90 499.86 L360.05 505.07 L361.20 496.32 L362.35 506.42 L363.50 496.55 L364.65 502.89 L365.80 497.74 L366.95 504.95 L368.10 497.83 L369.25 503.90 L370.40 496.10 L371.55 499.96 L372.70 492.20 L373.85 500.32 L375.00 488.77 L376.15 497.21 L377.30 487.67 L378.45 491.85 L379.60 481.75 L380.75 489.53 L381.90 476.82 L383.05 480.80 L384.20 474.54 L385.35 477.00 L386.50 466.62 L387.65 470.01 L388.80 456.11 L389.95 467.29 L391.10 451.07 L392.25 451.13 L393.40 439.83" fill="none" stroke="#a0a0a0" stroke-width="0.5" stroke-linejoin="round"/>
<path d="M343.50 525.78 L344.65 527.00 L345.80 520.60 L346.95 521.23 L348.10 516.82 L349.25 518.51 L350.40 512.71 L351.55 514.39 L352.70 507.35 L353.85 510.62 L355.00 506.94 L356.15 509.24 L357.30 502.25 L358.45 508.32 L359.60 501.19 L360.75 508.57 L361.90 501.66 L363.05 505.97 L364.20 501.38 L365.35 506.96 L366.50 501.49 L367.65 506.33 L368.80 499.40 L369.95 504.96 L371.10 499.55 L372.25 505.91 L373.40 497.26 L374.55 501.51 L375.70 491.80 L376.85 500.03 L378.00 492.34 L379.15 495.56 L380.30 486.13 L381.45 495.40 L382.60 484.53 L383.75 490.91 L384.90 477.02 L386.05 482.51 L387.20 474.01 L388.35 481.19 L389.50 465.59 L390.65 474.15 L391.80 458.63 L392.95 465.48 L394.10 449.71 L395.25 455.56 L396.40 434.27" fill="none" stroke="#bcbcbc" stroke-width="0.5" stroke-linejoin="round"/>
</g>
<line x1="394.20" y1="437.20" x2="394.20" y2="527.00" stroke="#d0d0d0" stroke-width="0.8"/>
<line x1="298.50" y1="436.90" x2="298.50" y2="528.60" stroke="#000" stroke-width="1.9"/>
<line x1="297.50" y1="527.70" x2="394.70" y2="527.70" stroke="#000" stroke-width="1.9"/>
<line x1="296.30" y1="527.00" x2="298.50" y2="527.00" stroke="#000" stroke-width="0.8"/>
<line x1="296.30" y1="518.10" x2="298.50" y2="518.10" stroke="#000" stroke-width="0.8"/>
<line x1="296.30" y1="509.20" x2="298.50" y2="509.20" stroke="#000" stroke-width="0.8"/>
<line x1="296.30" y1="500.30" x2="298.50" y2="500.30" stroke="#000" stroke-width="0.8"/>
<line x1="296.30" y1="491.40" x2="298.50" y2="491.40" stroke="#000" stroke-width="0.8"/>
<line x1="296.30" y1="482.50" x2="298.50" y2="482.50" stroke="#000" stroke-width="0.8"/>
<line x1="296.30" y1="473.60" x2="298.50" y2="473.60" stroke="#000" stroke-width="0.8"/>
<line x1="296.30" y1="464.70" x2="298.50" y2="464.70" stroke="#000" stroke-width="0.8"/>
<line x1="296.30" y1="455.80" x2="298.50" y2="455.80" stroke="#000" stroke-width="0.8"/>
<line x1="296.30" y1="446.90" x2="298.50" y2="446.90" stroke="#000" stroke-width="0.8"/>
<line x1="296.30" y1="438.00" x2="298.50" y2="438.00" stroke="#000" stroke-width="0.8"/>
<line x1="305.70" y1="527.70" x2="305.70" y2="529.60" stroke="#000" stroke-width="0.8"/>
<line x1="309.92" y1="527.70" x2="309.92" y2="529.60" stroke="#000" stroke-width="0.8"/>
<line x1="312.90" y1="527.70" x2="312.90" y2="529.60" stroke="#000" stroke-width="0.8"/>
<line x1="315.22" y1="527.70" x2="315.22" y2="529.60" stroke="#000" stroke-width="0.8"/>
<line x1="317.12" y1="527.70" x2="317.12" y2="529.60" stroke="#000" stroke-width="0.8"/>
<line x1="318.72" y1="527.70" x2="318.72" y2="529.60" stroke="#000" stroke-width="0.8"/>
<line x1="320.11" y1="527.70" x2="320.11" y2="529.60" stroke="#000" stroke-width="0.8"/>
<line x1="321.33" y1="527.70" x2="321.33" y2="529.60" stroke="#000" stroke-width="0.8"/>
<line x1="322.43" y1="527.70" x2="322.43" y2="530.30" stroke="#000" stroke-width="0.8"/>
<line x1="329.63" y1="527.70" x2="329.63" y2="529.60" stroke="#000" stroke-width="0.8"/>
<line x1="333.84" y1="527.70" x2="333.84" y2="529.60" stroke="#000" stroke-width="0.8"/>
<line x1="336.83" y1="527.70" x2="336.83" y2="529.60" stroke="#000" stroke-width="0.8"/>
<line x1="339.15" y1="527.70" x2="339.15" y2="529.60" stroke="#000" stroke-width="0.8"/>
<line x1="341.04" y1="527.70" x2="341.04" y2="529.60" stroke="#000" stroke-width="0.8"/>
<line x1="342.64" y1="527.70" x2="342.64" y2="529.60" stroke="#000" stroke-width="0.8"/>
<line x1="344.03" y1="527.70" x2="344.03" y2="529.60" stroke="#000" stroke-width="0.8"/>
<line x1="345.26" y1="527.70" x2="345.26" y2="529.60" stroke="#000" stroke-width="0.8"/>
<line x1="346.35" y1="527.70" x2="346.35" y2="530.30" stroke="#000" stroke-width="0.8"/>
<line x1="353.55" y1="527.70" x2="353.55" y2="529.60" stroke="#000" stroke-width="0.8"/>
<line x1="357.77" y1="527.70" x2="357.77" y2="529.60" stroke="#000" stroke-width="0.8"/>
<line x1="360.75" y1="527.70" x2="360.75" y2="529.60" stroke="#000" stroke-width="0.8"/>
<line x1="363.07" y1="527.70" x2="363.07" y2="529.60" stroke="#000" stroke-width="0.8"/>
<line x1="364.97" y1="527.70" x2="364.97" y2="529.60" stroke="#000" stroke-width="0.8"/>
<line x1="366.57" y1="527.70" x2="366.57" y2="529.60" stroke="#000" stroke-width="0.8"/>
<line x1="367.96" y1="527.70" x2="367.96" y2="529.60" stroke="#000" stroke-width="0.8"/>
<line x1="369.18" y1="527.70" x2="369.18" y2="529.60" stroke="#000" stroke-width="0.8"/>
<line x1="370.27" y1="527.70" x2="370.27" y2="530.30" stroke="#000" stroke-width="0.8"/>
<line x1="377.48" y1="527.70" x2="377.48" y2="529.60" stroke="#000" stroke-width="0.8"/>
<line x1="381.69" y1="527.70" x2="381.69" y2="529.60" stroke="#000" stroke-width="0.8"/>
<line x1="384.68" y1="527.70" x2="384.68" y2="529.60" stroke="#000" stroke-width="0.8"/>
<line x1="387.00" y1="527.70" x2="387.00" y2="529.60" stroke="#000" stroke-width="0.8"/>
<line x1="388.89" y1="527.70" x2="388.89" y2="529.60" stroke="#000" stroke-width="0.8"/>
<line x1="390.49" y1="527.70" x2="390.49" y2="529.60" stroke="#000" stroke-width="0.8"/>
<line x1="391.88" y1="527.70" x2="391.88" y2="529.60" stroke="#000" stroke-width="0.8"/>
<line x1="393.11" y1="527.70" x2="393.11" y2="529.60" stroke="#000" stroke-width="0.8"/>
<text x="303.80" y="432.90" font-size="8.85" font-weight="bold" text-anchor="start" fill="#000" stroke="#000" stroke-width="0.22">NMuMG-mTAZ-S89A</text>
<text x="294.90" y="525.50" font-size="7" font-weight="bold" text-anchor="start" fill="#000" stroke="#000" stroke-width="0.3" transform="rotate(-90 294.90 525.50)">Cell Count</text>
<line x1="292.50" y1="488.50" x2="292.50" y2="438.80" stroke="#000" stroke-width="1.05"/>
<path d="M288.60 443.00 L292.50 438.40 L296.40 443.00" fill="none" stroke="#000" stroke-width="1.1"/>
<text x="297.00" y="537.40" font-size="7" font-weight="bold">Log<tspan font-size="4.4" dy="1.2">10</tspan><tspan dy="-1.2"> Fluorescence</tspan></text>
<line x1="362.00" y1="535.20" x2="393.00" y2="535.20" stroke="#000" stroke-width="1.05"/>
<path d="M388.40 531.30 L393.20 535.20 L388.40 539.10" fill="none" stroke="#000" stroke-width="1.1"/>
<rect x="398.20" y="455.40" width="8.40" height="8.20" fill="#fff" stroke="#8a8a8a" stroke-width="0.8"/>
<text x="408.60" y="460.50" font-size="5.9" font-weight="bold" text-anchor="start" fill="#0a0a0a" stroke="#0a0a0a" stroke-width="0.3">Isotype</text>
<rect x="398.20" y="467.00" width="8.40" height="8.20" fill="#dedede" stroke="#9a9a9a" stroke-width="0.8"/>
<text x="408.60" y="472.10" font-size="5.9" font-weight="bold" text-anchor="start" fill="#0a0a0a" stroke="#0a0a0a" stroke-width="0.3">mTAZ-S89A (−Dox)</text>
<rect x="398.20" y="478.40" width="8.40" height="8.20" fill="#7e7e7e" stroke="#666" stroke-width="0.8"/>
<text x="408.60" y="483.50" font-size="5.9" font-weight="bold" text-anchor="start" fill="#0a0a0a" stroke="#0a0a0a" stroke-width="0.3">mTAZ-S89A (+Dox)</text>
<rect x="398.20" y="489.40" width="8.40" height="8.20" fill="#fff" stroke="#dadada" stroke-width="0.8"/>
<text x="408.60" y="494.50" font-size="5.9" font-weight="bold" text-anchor="start" fill="#0a0a0a" stroke="#0a0a0a" stroke-width="0.3">293T-mPD-L1</text>
<text x="0.60" y="555.60" font-size="14" font-weight="bold" text-anchor="start" fill="#000" stroke="#000" stroke-width="0.22">G</text>
<text x="32.20" y="567.50" font-size="8.7" font-weight="bold" text-anchor="start" fill="#000" stroke="#000" stroke-width="0.22">SK-BR-3</text>
<line x1="28.10" y1="570.30" x2="28.10" y2="664.80" stroke="#000" stroke-width="1.3"/>
<line x1="25.90" y1="664.00" x2="28.10" y2="664.00" stroke="#000" stroke-width="1.0"/>
<text x="25.40" y="666.60" font-size="7.2" font-weight="bold" text-anchor="end" fill="#000" stroke="#000" stroke-width="0.3">0</text>
<line x1="25.90" y1="650.69" x2="28.10" y2="650.69" stroke="#000" stroke-width="1.0"/>
<text x="25.40" y="653.29" font-size="7.2" font-weight="bold" text-anchor="end" fill="#000" stroke="#000" stroke-width="0.3">1</text>
<line x1="25.90" y1="637.38" x2="28.10" y2="637.38" stroke="#000" stroke-width="1.0"/>
<text x="25.40" y="639.98" font-size="7.2" font-weight="bold" text-anchor="end" fill="#000" stroke="#000" stroke-width="0.3">2</text>
<line x1="25.90" y1="624.07" x2="28.10" y2="624.07" stroke="#000" stroke-width="1.0"/>
<text x="25.40" y="626.67" font-size="7.2" font-weight="bold" text-anchor="end" fill="#000" stroke="#000" stroke-width="0.3">3</text>
<line x1="25.90" y1="610.76" x2="28.10" y2="610.76" stroke="#000" stroke-width="1.0"/>
<text x="25.40" y="613.36" font-size="7.2" font-weight="bold" text-anchor="end" fill="#000" stroke="#000" stroke-width="0.3">4</text>
<line x1="25.90" y1="597.45" x2="28.10" y2="597.45" stroke="#000" stroke-width="1.0"/>
<text x="25.40" y="600.05" font-size="7.2" font-weight="bold" text-anchor="end" fill="#000" stroke="#000" stroke-width="0.3">5</text>
<line x1="25.90" y1="584.14" x2="28.10" y2="584.14" stroke="#000" stroke-width="1.0"/>
<text x="25.40" y="586.74" font-size="7.2" font-weight="bold" text-anchor="end" fill="#000" stroke="#000" stroke-width="0.3">6</text>
<line x1="25.90" y1="570.83" x2="28.10" y2="570.83" stroke="#000" stroke-width="1.0"/>
<text x="25.40" y="573.43" font-size="7.2" font-weight="bold" text-anchor="end" fill="#000" stroke="#000" stroke-width="0.3">7</text>
<line x1="27.50" y1="664.00" x2="138.50" y2="664.00" stroke="#000" stroke-width="1.3"/>
<line x1="85.20" y1="664.00" x2="85.20" y2="666.30" stroke="#000" stroke-width="1.0"/>
<line x1="138.20" y1="664.00" x2="138.20" y2="666.30" stroke="#000" stroke-width="1.0"/>
<rect x="38.20" y="651.39" width="11.10" height="12.61" fill="#fff" stroke="#000" stroke-width="1.4"/>
<line x1="43.75" y1="650.42" x2="43.75" y2="650.69" stroke="#000" stroke-width="1.2"/>
<line x1="41.55" y1="650.42" x2="45.95" y2="650.42" stroke="#000" stroke-width="1.2"/>
<rect x="51.20" y="584.84" width="10.90" height="79.16" fill="#000" stroke="#000" stroke-width="1.4"/>
<line x1="56.65" y1="579.08" x2="56.65" y2="584.14" stroke="#000" stroke-width="1.2"/>
<line x1="54.45" y1="579.08" x2="58.85" y2="579.08" stroke="#000" stroke-width="1.2"/>
<text x="56.65" y="580.60" font-size="10.5" font-weight="bold" text-anchor="middle" fill="#000" stroke="#000" stroke-width="0.22">**</text>
<rect x="63.50" y="586.84" width="11.20" height="77.16" fill="#b3b3b3" stroke="#000" stroke-width="1.4"/>
<line x1="69.10" y1="583.08" x2="69.10" y2="586.14" stroke="#000" stroke-width="1.2"/>
<line x1="66.90" y1="583.08" x2="71.30" y2="583.08" stroke="#000" stroke-width="1.2"/>
<text x="69.10" y="583.40" font-size="10.5" font-weight="bold" text-anchor="middle" fill="#000" stroke="#000" stroke-width="0.22">**</text>
<rect x="94.00" y="651.39" width="11.50" height="12.61" fill="#fff" stroke="#000" stroke-width="1.4"/>
<line x1="99.75" y1="650.16" x2="99.75" y2="650.69" stroke="#000" stroke-width="1.2"/>
<line x1="97.55" y1="650.16" x2="101.95" y2="650.16" stroke="#000" stroke-width="1.2"/>
<rect x="107.30" y="638.08" width="11.00" height="25.92" fill="#000" stroke="#000" stroke-width="1.4"/>
<line x1="112.80" y1="636.45" x2="112.80" y2="637.38" stroke="#000" stroke-width="1.2"/>
<line x1="110.60" y1="636.45" x2="115.00" y2="636.45" stroke="#000" stroke-width="1.2"/>
<text x="112.80" y="635.00" font-size="10.5" font-weight="bold" text-anchor="middle" fill="#000" stroke="#000" stroke-width="0.22">**</text>
<rect x="119.70" y="640.74" width="12.10" height="23.26" fill="#b3b3b3" stroke="#000" stroke-width="1.4"/>
<text x="125.75" y="639.60" font-size="10.5" font-weight="bold" text-anchor="middle" fill="#000" stroke="#000" stroke-width="0.22">**</text>
<text x="56.70" y="671.00" font-size="6.6" font-weight="bold" text-anchor="middle" fill="#000" stroke="#000" stroke-width="0.3">Human</text>
<text x="57.30" y="679.20" font-size="6.8" font-weight="bold" text-anchor="middle" font-style="italic" fill="#000" stroke="#000" stroke-width="0.3">PD-L1-P</text>
<text x="113.00" y="671.00" font-size="6.6" font-weight="bold" text-anchor="middle" fill="#000" stroke="#000" stroke-width="0.3">Mouse</text>
<text x="113.00" y="679.20" font-size="6.8" font-weight="bold" text-anchor="middle" font-style="italic" fill="#000" stroke="#000" stroke-width="0.3">Pd-l1-P</text>
<text x="5.2" y="613.2" font-size="7.95" font-weight="bold" text-anchor="middle" transform="rotate(-90 5.2 613.2)">Promoter activity</text>
<text x="14.9" y="612.4" font-size="7.85" font-weight="bold" text-anchor="middle" transform="rotate(-90 14.9 612.4)">(normalized to control)</text>
<rect x="86.80" y="590.10" width="5.20" height="5.00" fill="#fff" stroke="#000" stroke-width="1.0"/>
<rect x="86.30" y="598.70" width="6.20" height="5.60" fill="#000"/>
<rect x="86.80" y="608.30" width="5.20" height="5.00" fill="#b3b3b3" stroke="#000" stroke-width="1.0"/>
<text x="94.70" y="595.40" font-size="6.9" font-weight="bold" text-anchor="start" fill="#000" stroke="#000" stroke-width="0.3">Alone</text>
<text x="94.70" y="604.50" font-size="6.9" font-weight="bold" text-anchor="start" fill="#000" stroke="#000" stroke-width="0.3">hTAZ-S89A+TEAD4</text>
<text x="94.70" y="613.60" font-size="6.85" font-weight="bold" text-anchor="start" fill="#000" stroke="#000" stroke-width="0.3">mTAZ-S89A+mTEAD4</text>
<text x="161.60" y="555.80" font-size="14" font-weight="bold" text-anchor="start" fill="#000" stroke="#000" stroke-width="0.22">H</text>
<line x1="204.40" y1="561.00" x2="204.40" y2="670.40" stroke="#000" stroke-width="1.45"/>
<line x1="202.20" y1="669.60" x2="204.40" y2="669.60" stroke="#000" stroke-width="1.0"/>
<text x="200.30" y="671.80" font-size="6.0" font-weight="bold" text-anchor="end" fill="#000" stroke="#000" stroke-width="0.3">0.0</text>
<line x1="202.20" y1="642.60" x2="204.40" y2="642.60" stroke="#000" stroke-width="1.0"/>
<text x="200.30" y="644.80" font-size="6.0" font-weight="bold" text-anchor="end" fill="#000" stroke="#000" stroke-width="0.3">0.4</text>
<line x1="202.20" y1="615.60" x2="204.40" y2="615.60" stroke="#000" stroke-width="1.0"/>
<text x="200.30" y="617.80" font-size="6.0" font-weight="bold" text-anchor="end" fill="#000" stroke="#000" stroke-width="0.3">0.8</text>
<line x1="202.20" y1="588.60" x2="204.40" y2="588.60" stroke="#000" stroke-width="1.0"/>
<text x="200.30" y="590.80" font-size="6.0" font-weight="bold" text-anchor="end" fill="#000" stroke="#000" stroke-width="0.3">1.2</text>
<line x1="202.20" y1="561.60" x2="204.40" y2="561.60" stroke="#000" stroke-width="1.0"/>
<text x="200.30" y="563.80" font-size="6.0" font-weight="bold" text-anchor="end" fill="#000" stroke="#000" stroke-width="0.3">1.6</text>
<line x1="203.80" y1="669.60" x2="340.50" y2="669.60" stroke="#000" stroke-width="1.45"/>
<line x1="250.40" y1="669.60" x2="250.40" y2="671.90" stroke="#000" stroke-width="1.0"/>
<line x1="295.80" y1="669.60" x2="295.80" y2="671.90" stroke="#000" stroke-width="1.0"/>
<line x1="340.30" y1="669.60" x2="340.30" y2="671.90" stroke="#000" stroke-width="1.0"/>
<rect x="214.60" y="599.40" width="14.10" height="70.20" fill="#000"/>
<line x1="221.65" y1="581.70" x2="221.65" y2="599.40" stroke="#000" stroke-width="1.3"/>
<line x1="219.35" y1="581.70" x2="223.95" y2="581.70" stroke="#000" stroke-width="1.3"/>
<rect x="229.45" y="609.55" width="11.10" height="60.05" fill="#fff" stroke="#000" stroke-width="1.5"/>
<line x1="235.00" y1="604.60" x2="235.00" y2="608.80" stroke="#000" stroke-width="1.3"/>
<line x1="232.70" y1="604.60" x2="237.30" y2="604.60" stroke="#000" stroke-width="1.3"/>
<rect x="259.70" y="598.20" width="14.00" height="71.40" fill="#000"/>
<line x1="266.70" y1="576.70" x2="266.70" y2="598.20" stroke="#000" stroke-width="1.3"/>
<line x1="264.40" y1="576.70" x2="269.00" y2="576.70" stroke="#000" stroke-width="1.3"/>
<rect x="274.45" y="634.15" width="11.40" height="35.45" fill="#fff" stroke="#000" stroke-width="1.5"/>
<line x1="280.15" y1="622.30" x2="280.15" y2="633.40" stroke="#000" stroke-width="1.3"/>
<line x1="277.85" y1="622.30" x2="282.45" y2="622.30" stroke="#000" stroke-width="1.3"/>
<rect x="304.70" y="599.60" width="14.00" height="70.00" fill="#000"/>
<line x1="311.70" y1="583.60" x2="311.70" y2="599.60" stroke="#000" stroke-width="1.3"/>
<line x1="309.40" y1="583.60" x2="314.00" y2="583.60" stroke="#000" stroke-width="1.3"/>
<rect x="319.45" y="623.05" width="11.80" height="46.55" fill="#fff" stroke="#000" stroke-width="1.5"/>
<line x1="325.35" y1="616.30" x2="325.35" y2="622.30" stroke="#000" stroke-width="1.3"/>
<line x1="323.05" y1="616.30" x2="327.65" y2="616.30" stroke="#000" stroke-width="1.3"/>
<text x="225.00" y="679.00" font-size="6.8" font-weight="bold" text-anchor="middle" font-style="italic" fill="#000" stroke="#000" stroke-width="0.3">Pd-l2</text>
<text x="273.50" y="679.00" font-size="6.8" font-weight="bold" text-anchor="middle" font-style="italic" fill="#000" stroke="#000" stroke-width="0.3">S1pr1</text>
<text x="318.80" y="679.00" font-size="6.8" font-weight="bold" text-anchor="middle" font-style="italic" fill="#000" stroke="#000" stroke-width="0.3">Nlrp3</text>
<text x="210.00" y="566.80" font-size="8.8" font-weight="bold" text-anchor="start" fill="#000" stroke="#000" stroke-width="0.22">HC11-TAZ-S89A</text>
<rect x="311.90" y="558.40" width="4.60" height="4.60" fill="#000"/>
<rect x="312.50" y="566.60" width="3.60" height="3.60" fill="#fff" stroke="#000" stroke-width="1.0"/>
<text x="316.50" y="563.20" font-size="7.2" font-weight="bold" text-anchor="start" fill="#000" stroke="#000" stroke-width="0.3">−Dox</text>
<text x="316.50" y="571.30" font-size="7.2" font-weight="bold" text-anchor="start" fill="#000" stroke="#000" stroke-width="0.3">+Dox</text>
<text x="176.20" y="616" font-size="7.9" font-weight="bold" text-anchor="middle" transform="rotate(-90 176.20 616)">Target mRNA expression</text>
<text x="183.60" y="616" font-size="7.9" font-weight="bold" text-anchor="middle" transform="rotate(-90 183.60 616)">(normalized to control)</text>
<text x="353.60" y="556.60" font-size="14" font-weight="bold" text-anchor="start" fill="#000" stroke="#000" stroke-width="0.22">I</text>
<line x1="382.50" y1="562.40" x2="382.50" y2="670.40" stroke="#000" stroke-width="1.45"/>
<line x1="380.30" y1="669.60" x2="382.50" y2="669.60" stroke="#000" stroke-width="1.0"/>
<text x="378.00" y="671.80" font-size="6.0" font-weight="bold" text-anchor="end" fill="#000" stroke="#000" stroke-width="0.3">0.0</text>
<line x1="380.30" y1="648.26" x2="382.50" y2="648.26" stroke="#000" stroke-width="1.0"/>
<text x="378.00" y="650.46" font-size="6.0" font-weight="bold" text-anchor="end" fill="#000" stroke="#000" stroke-width="0.3">0.5</text>
<line x1="380.30" y1="626.92" x2="382.50" y2="626.92" stroke="#000" stroke-width="1.0"/>
<text x="378.00" y="629.12" font-size="6.0" font-weight="bold" text-anchor="end" fill="#000" stroke="#000" stroke-width="0.3">1.0</text>
<line x1="380.30" y1="605.58" x2="382.50" y2="605.58" stroke="#000" stroke-width="1.0"/>
<text x="378.00" y="607.78" font-size="6.0" font-weight="bold" text-anchor="end" fill="#000" stroke="#000" stroke-width="0.3">1.5</text>
<line x1="380.30" y1="584.24" x2="382.50" y2="584.24" stroke="#000" stroke-width="1.0"/>
<text x="378.00" y="586.44" font-size="6.0" font-weight="bold" text-anchor="end" fill="#000" stroke="#000" stroke-width="0.3">2.0</text>
<line x1="380.30" y1="562.90" x2="382.50" y2="562.90" stroke="#000" stroke-width="1.0"/>
<text x="378.00" y="565.10" font-size="6.0" font-weight="bold" text-anchor="end" fill="#000" stroke="#000" stroke-width="0.3">2.5</text>
<line x1="381.90" y1="669.60" x2="519.50" y2="669.60" stroke="#000" stroke-width="1.45"/>
<line x1="428.40" y1="669.60" x2="428.40" y2="671.90" stroke="#000" stroke-width="1.0"/>
<line x1="474.20" y1="669.60" x2="474.20" y2="671.90" stroke="#000" stroke-width="1.0"/>
<line x1="519.30" y1="669.60" x2="519.30" y2="671.90" stroke="#000" stroke-width="1.0"/>
<rect x="391.70" y="625.80" width="14.10" height="43.80" fill="#000"/>
<line x1="398.75" y1="618.00" x2="398.75" y2="625.80" stroke="#000" stroke-width="1.3"/>
<line x1="396.45" y1="618.00" x2="401.05" y2="618.00" stroke="#000" stroke-width="1.3"/>
<rect x="406.55" y="612.05" width="12.10" height="57.55" fill="#fff" stroke="#000" stroke-width="1.5"/>
<line x1="412.60" y1="606.30" x2="412.60" y2="611.30" stroke="#000" stroke-width="1.3"/>
<line x1="410.30" y1="606.30" x2="414.90" y2="606.30" stroke="#000" stroke-width="1.3"/>
<rect x="437.70" y="625.90" width="13.40" height="43.70" fill="#000"/>
<line x1="444.40" y1="624.60" x2="444.40" y2="625.90" stroke="#000" stroke-width="1.3"/>
<line x1="442.10" y1="624.60" x2="446.70" y2="624.60" stroke="#000" stroke-width="1.3"/>
<rect x="451.85" y="592.95" width="12.00" height="76.65" fill="#fff" stroke="#000" stroke-width="1.5"/>
<line x1="457.85" y1="577.10" x2="457.85" y2="592.20" stroke="#000" stroke-width="1.3"/>
<line x1="455.55" y1="577.10" x2="460.15" y2="577.10" stroke="#000" stroke-width="1.3"/>
<rect x="483.30" y="625.30" width="13.60" height="44.30" fill="#000"/>
<line x1="490.10" y1="624.00" x2="490.10" y2="625.30" stroke="#000" stroke-width="1.3"/>
<line x1="487.80" y1="624.00" x2="492.40" y2="624.00" stroke="#000" stroke-width="1.3"/>
<rect x="497.65" y="649.15" width="11.60" height="20.45" fill="#fff" stroke="#000" stroke-width="1.5"/>
<line x1="503.45" y1="644.40" x2="503.45" y2="648.40" stroke="#000" stroke-width="1.3"/>
<line x1="501.15" y1="644.40" x2="505.75" y2="644.40" stroke="#000" stroke-width="1.3"/>
<text x="405.50" y="679.00" font-size="6.8" font-weight="bold" text-anchor="middle" font-style="italic" fill="#000" stroke="#000" stroke-width="0.3">Pd-l2</text>
<text x="451.50" y="679.00" font-size="6.8" font-weight="bold" text-anchor="middle" font-style="italic" fill="#000" stroke="#000" stroke-width="0.3">S1pr1</text>
<text x="496.80" y="679.00" font-size="6.8" font-weight="bold" text-anchor="middle" font-style="italic" fill="#000" stroke="#000" stroke-width="0.3">Nlrp3</text>
<text x="387.00" y="566.80" font-size="8.8" font-weight="bold" text-anchor="start" fill="#000" stroke="#000" stroke-width="0.22">NMuMG-TAZ-S89A</text>
<rect x="483.30" y="574.70" width="4.60" height="4.60" fill="#000"/>
<rect x="483.90" y="582.90" width="3.60" height="3.60" fill="#fff" stroke="#000" stroke-width="1.0"/>
<text x="487.90" y="579.50" font-size="7.2" font-weight="bold" text-anchor="start" fill="#000" stroke="#000" stroke-width="0.3">−Dox</text>
<text x="487.90" y="587.60" font-size="7.2" font-weight="bold" text-anchor="start" fill="#000" stroke="#000" stroke-width="0.3">+Dox</text>
<text x="354.20" y="616" font-size="7.9" font-weight="bold" text-anchor="middle" transform="rotate(-90 354.20 616)">Target mRNA expression</text>
<text x="361.60" y="616" font-size="7.9" font-weight="bold" text-anchor="middle" transform="rotate(-90 361.60 616)">(normalized to control)</text>
</svg>
</body></html>
